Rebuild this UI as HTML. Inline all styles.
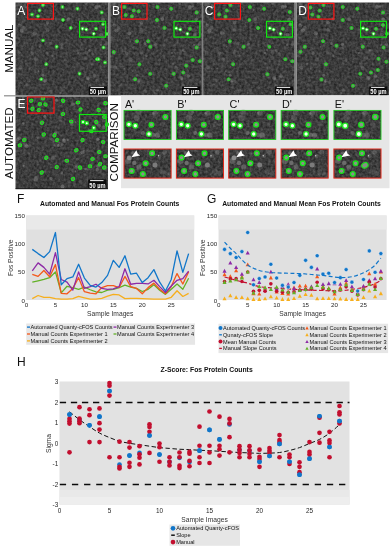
<!DOCTYPE html>
<html lang="en"><head><meta charset="utf-8"><title>Figure</title>
<style>
html,body{margin:0;padding:0;background:#fff;}
body{width:392px;height:550px;overflow:hidden;}
svg{display:block;font-family:"Liberation Sans", Arial, sans-serif;}
.tk{font-size:6.2px;fill:#262626;}
.ax{font-size:6.7px;fill:#333;}
.ti{font-size:6.8px;font-weight:bold;fill:#111;}
.lg{font-size:5.6px;fill:#111;}
.pl{font-size:12px;fill:#111;}
.rl{font-size:11.6px;fill:#111;}
.sb{font-size:4.6px;font-weight:bold;fill:#111;}
</style></head><body>
<svg width="392" height="550" viewBox="0 0 392 550">
<defs>
<filter id="nz" x="0" y="0" width="100%" height="100%" color-interpolation-filters="sRGB">
<feTurbulence type="fractalNoise" baseFrequency="0.38" numOctaves="2" seed="3" result="t"/>
<feColorMatrix in="t" type="matrix" values="0.30 0 0 0 0.085  0.30 0 0 0 0.085  0.30 0 0 0 0.085  0 0 0 0 1"/>
<feComposite operator="in" in2="SourceGraphic"/>
</filter>
<filter id="bl" x="-50%" y="-50%" width="200%" height="200%"><feGaussianBlur stdDeviation="0.6"/></filter>
</defs>
<rect width="392" height="550" fill="#fff"/>

<g>
<rect x="15.5" y="2.5" width="93" height="92.8" fill="#474747" filter="url(#nz)"/>
<g filter="url(#bl)">
<circle cx="28.7" cy="80.4" r="1.8" fill="#949494" opacity="0.19"/>
<circle cx="61.6" cy="44.3" r="1.6" fill="#949494" opacity="0.38"/>
<circle cx="25.0" cy="6.1" r="1.9" fill="#949494" opacity="0.25"/>
<circle cx="85.9" cy="3.7" r="1.4" fill="#949494" opacity="0.35"/>
<circle cx="37.3" cy="89.3" r="2.0" fill="#949494" opacity="0.11"/>
<circle cx="18.8" cy="52.7" r="2.0" fill="#949494" opacity="0.23"/>
<circle cx="36.2" cy="41.8" r="0.8" fill="#949494" opacity="0.18"/>
<circle cx="56.3" cy="48.5" r="1.1" fill="#949494" opacity="0.18"/>
<circle cx="36.4" cy="45.2" r="1.2" fill="#949494" opacity="0.11"/>
<circle cx="92.7" cy="54.0" r="1.6" fill="#949494" opacity="0.17"/>
<circle cx="106.8" cy="81.6" r="1.0" fill="#949494" opacity="0.22"/>
<circle cx="82.2" cy="68.1" r="2.0" fill="#949494" opacity="0.25"/>
<circle cx="92.0" cy="64.4" r="1.2" fill="#949494" opacity="0.31"/>
<circle cx="96.8" cy="80.3" r="1.5" fill="#949494" opacity="0.31"/>
<circle cx="19.6" cy="25.5" r="1.8" fill="#949494" opacity="0.25"/>
<circle cx="32.2" cy="53.3" r="1.7" fill="#949494" opacity="0.34"/>
<circle cx="50.6" cy="43.4" r="1.5" fill="#949494" opacity="0.37"/>
<circle cx="63.9" cy="39.2" r="1.4" fill="#949494" opacity="0.11"/>
<circle cx="20.5" cy="67.4" r="2.1" fill="#949494" opacity="0.31"/>
<circle cx="52.3" cy="19.0" r="1.5" fill="#949494" opacity="0.44"/>
<circle cx="86.6" cy="52.5" r="1.9" fill="#949494" opacity="0.18"/>
<circle cx="63.3" cy="90.0" r="1.6" fill="#949494" opacity="0.26"/>
<circle cx="41.0" cy="53.3" r="2.0" fill="#949494" opacity="0.10"/>
<circle cx="87.8" cy="78.0" r="2.0" fill="#949494" opacity="0.36"/>
<circle cx="90.1" cy="50.6" r="1.5" fill="#949494" opacity="0.25"/>
<circle cx="21.6" cy="82.5" r="1.5" fill="#949494" opacity="0.17"/>
<circle cx="62.4" cy="47.5" r="1.3" fill="#949494" opacity="0.22"/>
<circle cx="65.5" cy="60.1" r="1.6" fill="#949494" opacity="0.26"/>
<circle cx="19.0" cy="24.3" r="1.0" fill="#949494" opacity="0.30"/>
<circle cx="94.9" cy="76.0" r="1.8" fill="#949494" opacity="0.39"/>
<circle cx="39.7" cy="79.9" r="1.7" fill="#949494" opacity="0.13"/>
<circle cx="18.0" cy="4.8" r="1.8" fill="#949494" opacity="0.19"/>
<circle cx="26.5" cy="60.2" r="1.2" fill="#949494" opacity="0.12"/>
<circle cx="31.0" cy="51.4" r="1.0" fill="#949494" opacity="0.20"/>
<circle cx="81.3" cy="44.8" r="1.2" fill="#949494" opacity="0.27"/>
<circle cx="18.7" cy="38.6" r="1.3" fill="#949494" opacity="0.17"/>
<circle cx="26.4" cy="85.2" r="1.5" fill="#949494" opacity="0.17"/>
<circle cx="71.6" cy="77.7" r="0.8" fill="#949494" opacity="0.11"/>
<circle cx="29.8" cy="68.8" r="1.0" fill="#949494" opacity="0.35"/>
<circle cx="78.2" cy="53.0" r="1.1" fill="#949494" opacity="0.44"/>
<circle cx="89.1" cy="50.4" r="1.1" fill="#949494" opacity="0.33"/>
<circle cx="52.4" cy="55.8" r="1.2" fill="#949494" opacity="0.32"/>
<circle cx="21.8" cy="30.6" r="2.1" fill="#949494" opacity="0.41"/>
<circle cx="44.4" cy="81.5" r="1.2" fill="#949494" opacity="0.43"/>
<circle cx="84.2" cy="41.3" r="1.1" fill="#949494" opacity="0.10"/>
<circle cx="96.5" cy="6.9" r="1.9" fill="#949494" opacity="0.44"/>
<circle cx="68.4" cy="19.1" r="1.9" fill="#949494" opacity="0.44"/>
<circle cx="80.6" cy="49.7" r="1.3" fill="#949494" opacity="0.22"/>
<circle cx="35.2" cy="64.7" r="1.4" fill="#949494" opacity="0.17"/>
<circle cx="26.0" cy="64.0" r="1.2" fill="#949494" opacity="0.27"/>
<circle cx="46.1" cy="82.6" r="2.0" fill="#949494" opacity="0.11"/>
<circle cx="34.8" cy="33.3" r="2.1" fill="#949494" opacity="0.37"/>
<circle cx="47.4" cy="22.8" r="1.7" fill="#949494" opacity="0.39"/>
<circle cx="101.3" cy="34.7" r="1.9" fill="#949494" opacity="0.34"/>
<circle cx="60.6" cy="93.0" r="1.1" fill="#949494" opacity="0.35"/>
<circle cx="24.2" cy="18.9" r="2.0" fill="#949494" opacity="0.17"/>
<circle cx="85.6" cy="58.0" r="1.9" fill="#949494" opacity="0.23"/>
<circle cx="47.5" cy="29.9" r="1.9" fill="#949494" opacity="0.31"/>
<circle cx="103.3" cy="84.1" r="1.0" fill="#949494" opacity="0.29"/>
<circle cx="26.0" cy="7.1" r="0.9" fill="#949494" opacity="0.40"/>
<circle cx="88.2" cy="78.7" r="1.2" fill="#949494" opacity="0.32"/>
<circle cx="87.7" cy="37.8" r="1.5" fill="#949494" opacity="0.18"/>
<circle cx="23.9" cy="27.7" r="2.0" fill="#949494" opacity="0.30"/>
<circle cx="100.7" cy="45.1" r="1.2" fill="#949494" opacity="0.38"/>
<circle cx="91.8" cy="4.6" r="1.7" fill="#949494" opacity="0.13"/>
<circle cx="27.0" cy="83.9" r="0.9" fill="#949494" opacity="0.18"/>
<circle cx="106.4" cy="41.7" r="1.0" fill="#949494" opacity="0.16"/>
<circle cx="38.5" cy="71.1" r="0.9" fill="#949494" opacity="0.42"/>
<circle cx="50.9" cy="91.6" r="2.0" fill="#949494" opacity="0.20"/>
<circle cx="39.6" cy="46.8" r="0.9" fill="#949494" opacity="0.33"/>
<circle cx="20.1" cy="4.5" r="2.1" fill="#949494" opacity="0.20"/>
<circle cx="70.8" cy="44.3" r="1.2" fill="#949494" opacity="0.12"/>
<circle cx="99.6" cy="91.6" r="2.1" fill="#949494" opacity="0.14"/>
<circle cx="36.1" cy="59.6" r="2.1" fill="#949494" opacity="0.29"/>
<circle cx="79.1" cy="63.6" r="1.1" fill="#949494" opacity="0.29"/>
<circle cx="44.5" cy="25.9" r="0.9" fill="#949494" opacity="0.20"/>
<circle cx="106.0" cy="44.2" r="1.6" fill="#949494" opacity="0.33"/>
<circle cx="102.1" cy="39.0" r="1.2" fill="#949494" opacity="0.21"/>
<circle cx="45.3" cy="80.4" r="2.0" fill="#949494" opacity="0.21"/>
<circle cx="46.9" cy="52.9" r="1.6" fill="#949494" opacity="0.31"/>
<circle cx="38.8" cy="5.3" r="1.1" fill="#949494" opacity="0.13"/>
<circle cx="66.7" cy="9.9" r="0.9" fill="#949494" opacity="0.32"/>
<circle cx="43.0" cy="75.4" r="1.4" fill="#949494" opacity="0.40"/>
<circle cx="30.5" cy="49.0" r="1.8" fill="#949494" opacity="0.13"/>
<circle cx="102.9" cy="19.2" r="1.8" fill="#949494" opacity="0.44"/>
<circle cx="91.3" cy="32.5" r="0.9" fill="#949494" opacity="0.28"/>
<circle cx="100.2" cy="30.1" r="2.0" fill="#949494" opacity="0.15"/>
<circle cx="99.4" cy="6.4" r="1.2" fill="#949494" opacity="0.42"/>
<circle cx="89.7" cy="85.9" r="1.9" fill="#949494" opacity="0.36"/>
<circle cx="79.3" cy="19.7" r="1.4" fill="#949494" opacity="0.16"/>
</g>
<circle cx="43.00" cy="5.00" r="1.40" fill="#a4cfa4" stroke="#18e418" stroke-width="0.95"/>
<circle cx="39.50" cy="10.50" r="1.40" fill="#a4cfa4" stroke="#18e418" stroke-width="0.95"/>
<circle cx="32.00" cy="14.50" r="1.40" fill="#a4cfa4" stroke="#18e418" stroke-width="0.95"/>
<circle cx="38.00" cy="16.25" r="1.40" fill="#a4cfa4" stroke="#18e418" stroke-width="0.95"/>
<circle cx="62.50" cy="7.00" r="1.40" fill="#a4cfa4" stroke="#18e418" stroke-width="0.95"/>
<circle cx="77.50" cy="8.75" r="1.40" fill="#a4cfa4" stroke="#18e418" stroke-width="0.95"/>
<circle cx="63.00" cy="20.00" r="1.40" fill="#a4cfa4" stroke="#18e418" stroke-width="0.95"/>
<circle cx="70.75" cy="28.00" r="1.40" fill="#a4cfa4" stroke="#18e418" stroke-width="0.95"/>
<circle cx="82.50" cy="28.75" r="1.40" fill="#f2fff2" stroke="#20ea20" stroke-width="0.95"/>
<circle cx="86.25" cy="29.50" r="1.40" fill="#f2fff2" stroke="#20ea20" stroke-width="0.95"/>
<circle cx="96.00" cy="28.75" r="1.40" fill="#a4cfa4" stroke="#18e418" stroke-width="0.95"/>
<circle cx="93.75" cy="33.75" r="1.40" fill="#f2fff2" stroke="#20ea20" stroke-width="0.95"/>
<circle cx="43.00" cy="40.50" r="1.40" fill="#a4cfa4" stroke="#18e418" stroke-width="0.95"/>
<circle cx="56.75" cy="46.75" r="1.40" fill="#a4cfa4" stroke="#18e418" stroke-width="0.95"/>
<circle cx="46.25" cy="64.25" r="1.40" fill="#a4cfa4" stroke="#18e418" stroke-width="0.95"/>
<circle cx="79.50" cy="73.75" r="1.40" fill="#a4cfa4" stroke="#18e418" stroke-width="0.95"/>
<circle cx="41.25" cy="79.25" r="1.40" fill="#a4cfa4" stroke="#18e418" stroke-width="0.95"/>
<circle cx="97.00" cy="59.25" r="1.40" fill="#a4cfa4" stroke="#18e418" stroke-width="0.95"/>
<circle cx="101.75" cy="12.50" r="1.40" fill="#a4cfa4" stroke="#18e418" stroke-width="0.95"/>
<circle cx="103.00" cy="24.25" r="1.40" fill="#a4cfa4" stroke="#18e418" stroke-width="0.95"/>
<circle cx="107.00" cy="34.00" r="1.40" fill="#a4cfa4" stroke="#18e418" stroke-width="0.95"/>
<circle cx="103.50" cy="47.50" r="1.40" fill="#a4cfa4" stroke="#18e418" stroke-width="0.95"/>
<circle cx="98.50" cy="59.25" r="1.40" fill="#a4cfa4" stroke="#18e418" stroke-width="0.95"/>
<circle cx="105.00" cy="62.50" r="1.40" fill="#a4cfa4" stroke="#18e418" stroke-width="0.95"/>
<rect x="27.70" y="3.40" width="25.70" height="15.70" fill="none" stroke="#ff1414" stroke-width="1.2"/>
<rect x="79.60" y="21.30" width="26.05" height="15.80" fill="none" stroke="#10e810" stroke-width="1.2"/>
<text x="17.2" y="15.4" style="font-size:12px;fill:#fff">A</text>
<rect x="88.70" y="86.40" width="18.3" height="8.8" fill="#0c0c0c"/>
<rect x="90.60" y="86.90" width="13.4" height="1.0" fill="#efefef"/>
<text x="89.80" y="94.40" textLength="16.3" lengthAdjust="spacingAndGlyphs" style="font-size:6.6px;font-weight:bold;fill:#fafafa">50 µm</text>
</g>
<g>
<rect x="110.2" y="2.5" width="91.7" height="92.8" fill="#474747" filter="url(#nz)"/>
<g filter="url(#bl)">
<circle cx="123.3" cy="80.4" r="1.8" fill="#949494" opacity="0.19"/>
<circle cx="155.6" cy="44.3" r="1.6" fill="#949494" opacity="0.38"/>
<circle cx="119.6" cy="6.1" r="1.9" fill="#949494" opacity="0.25"/>
<circle cx="179.6" cy="3.7" r="1.4" fill="#949494" opacity="0.35"/>
<circle cx="131.7" cy="89.3" r="2.0" fill="#949494" opacity="0.11"/>
<circle cx="113.5" cy="52.7" r="2.0" fill="#949494" opacity="0.23"/>
<circle cx="130.6" cy="41.8" r="0.8" fill="#949494" opacity="0.18"/>
<circle cx="150.5" cy="48.5" r="1.1" fill="#949494" opacity="0.18"/>
<circle cx="130.8" cy="45.2" r="1.2" fill="#949494" opacity="0.11"/>
<circle cx="186.3" cy="54.0" r="1.6" fill="#949494" opacity="0.17"/>
<circle cx="200.2" cy="81.6" r="1.0" fill="#949494" opacity="0.22"/>
<circle cx="175.9" cy="68.1" r="2.0" fill="#949494" opacity="0.25"/>
<circle cx="185.7" cy="64.4" r="1.2" fill="#949494" opacity="0.31"/>
<circle cx="190.4" cy="80.3" r="1.5" fill="#949494" opacity="0.31"/>
<circle cx="114.3" cy="25.5" r="1.8" fill="#949494" opacity="0.25"/>
<circle cx="126.7" cy="53.3" r="1.7" fill="#949494" opacity="0.34"/>
<circle cx="144.8" cy="43.4" r="1.5" fill="#949494" opacity="0.37"/>
<circle cx="157.9" cy="39.2" r="1.4" fill="#949494" opacity="0.11"/>
<circle cx="115.1" cy="67.4" r="2.1" fill="#949494" opacity="0.31"/>
<circle cx="146.5" cy="19.0" r="1.5" fill="#949494" opacity="0.44"/>
<circle cx="180.3" cy="52.5" r="1.9" fill="#949494" opacity="0.18"/>
<circle cx="157.3" cy="90.0" r="1.6" fill="#949494" opacity="0.26"/>
<circle cx="135.4" cy="53.3" r="2.0" fill="#949494" opacity="0.10"/>
<circle cx="181.5" cy="78.0" r="2.0" fill="#949494" opacity="0.36"/>
<circle cx="183.8" cy="50.6" r="1.5" fill="#949494" opacity="0.25"/>
<circle cx="116.2" cy="82.5" r="1.5" fill="#949494" opacity="0.17"/>
<circle cx="156.5" cy="47.5" r="1.3" fill="#949494" opacity="0.22"/>
<circle cx="159.5" cy="60.1" r="1.6" fill="#949494" opacity="0.26"/>
<circle cx="113.7" cy="24.3" r="1.0" fill="#949494" opacity="0.30"/>
<circle cx="188.4" cy="76.0" r="1.8" fill="#949494" opacity="0.39"/>
<circle cx="134.1" cy="79.9" r="1.7" fill="#949494" opacity="0.13"/>
<circle cx="112.7" cy="4.8" r="1.8" fill="#949494" opacity="0.19"/>
<circle cx="121.0" cy="60.2" r="1.2" fill="#949494" opacity="0.12"/>
<circle cx="125.5" cy="51.4" r="1.0" fill="#949494" opacity="0.20"/>
<circle cx="175.0" cy="44.8" r="1.2" fill="#949494" opacity="0.27"/>
<circle cx="113.3" cy="38.6" r="1.3" fill="#949494" opacity="0.17"/>
<circle cx="121.0" cy="85.2" r="1.5" fill="#949494" opacity="0.17"/>
<circle cx="165.5" cy="77.7" r="0.8" fill="#949494" opacity="0.11"/>
<circle cx="124.3" cy="68.8" r="1.0" fill="#949494" opacity="0.35"/>
<circle cx="172.0" cy="53.0" r="1.1" fill="#949494" opacity="0.44"/>
<circle cx="182.8" cy="50.4" r="1.1" fill="#949494" opacity="0.33"/>
<circle cx="146.6" cy="55.8" r="1.2" fill="#949494" opacity="0.32"/>
<circle cx="116.5" cy="30.6" r="2.1" fill="#949494" opacity="0.41"/>
<circle cx="138.7" cy="81.5" r="1.2" fill="#949494" opacity="0.43"/>
<circle cx="177.9" cy="41.3" r="1.1" fill="#949494" opacity="0.10"/>
<circle cx="190.0" cy="6.9" r="1.9" fill="#949494" opacity="0.44"/>
<circle cx="162.4" cy="19.1" r="1.9" fill="#949494" opacity="0.44"/>
<circle cx="174.4" cy="49.7" r="1.3" fill="#949494" opacity="0.22"/>
<circle cx="129.7" cy="64.7" r="1.4" fill="#949494" opacity="0.17"/>
<circle cx="120.6" cy="64.0" r="1.2" fill="#949494" opacity="0.27"/>
<circle cx="140.4" cy="82.6" r="2.0" fill="#949494" opacity="0.11"/>
<circle cx="129.2" cy="33.3" r="2.1" fill="#949494" opacity="0.37"/>
<circle cx="141.6" cy="22.8" r="1.7" fill="#949494" opacity="0.39"/>
<circle cx="194.8" cy="34.7" r="1.9" fill="#949494" opacity="0.34"/>
<circle cx="154.7" cy="93.0" r="1.1" fill="#949494" opacity="0.35"/>
<circle cx="118.8" cy="18.9" r="2.0" fill="#949494" opacity="0.17"/>
<circle cx="179.3" cy="58.0" r="1.9" fill="#949494" opacity="0.23"/>
<circle cx="141.7" cy="29.9" r="1.9" fill="#949494" opacity="0.31"/>
<circle cx="196.8" cy="84.1" r="1.0" fill="#949494" opacity="0.29"/>
<circle cx="120.6" cy="7.1" r="0.9" fill="#949494" opacity="0.40"/>
<circle cx="181.9" cy="78.7" r="1.2" fill="#949494" opacity="0.32"/>
<circle cx="181.3" cy="37.8" r="1.5" fill="#949494" opacity="0.18"/>
<circle cx="118.5" cy="27.7" r="2.0" fill="#949494" opacity="0.30"/>
<circle cx="194.2" cy="45.1" r="1.2" fill="#949494" opacity="0.38"/>
<circle cx="185.5" cy="4.6" r="1.7" fill="#949494" opacity="0.13"/>
<circle cx="121.5" cy="83.9" r="0.9" fill="#949494" opacity="0.18"/>
<circle cx="199.8" cy="41.7" r="1.0" fill="#949494" opacity="0.16"/>
<circle cx="132.9" cy="71.1" r="0.9" fill="#949494" opacity="0.42"/>
<circle cx="145.1" cy="91.6" r="2.0" fill="#949494" opacity="0.20"/>
<circle cx="133.9" cy="46.8" r="0.9" fill="#949494" opacity="0.33"/>
<circle cx="114.8" cy="4.5" r="2.1" fill="#949494" opacity="0.20"/>
<circle cx="164.7" cy="44.3" r="1.2" fill="#949494" opacity="0.12"/>
<circle cx="193.1" cy="91.6" r="2.1" fill="#949494" opacity="0.14"/>
<circle cx="130.5" cy="59.6" r="2.1" fill="#949494" opacity="0.29"/>
<circle cx="172.9" cy="63.6" r="1.1" fill="#949494" opacity="0.29"/>
<circle cx="138.8" cy="25.9" r="0.9" fill="#949494" opacity="0.20"/>
<circle cx="199.4" cy="44.2" r="1.6" fill="#949494" opacity="0.33"/>
<circle cx="195.6" cy="39.0" r="1.2" fill="#949494" opacity="0.21"/>
<circle cx="139.6" cy="80.4" r="2.0" fill="#949494" opacity="0.21"/>
<circle cx="141.2" cy="52.9" r="1.6" fill="#949494" opacity="0.31"/>
<circle cx="133.2" cy="5.3" r="1.1" fill="#949494" opacity="0.13"/>
<circle cx="160.6" cy="9.9" r="0.9" fill="#949494" opacity="0.32"/>
<circle cx="137.3" cy="75.4" r="1.4" fill="#949494" opacity="0.40"/>
<circle cx="125.0" cy="49.0" r="1.8" fill="#949494" opacity="0.13"/>
<circle cx="196.3" cy="19.2" r="1.8" fill="#949494" opacity="0.44"/>
<circle cx="184.9" cy="32.5" r="0.9" fill="#949494" opacity="0.28"/>
<circle cx="193.7" cy="30.1" r="2.0" fill="#949494" opacity="0.15"/>
<circle cx="192.9" cy="6.4" r="1.2" fill="#949494" opacity="0.42"/>
<circle cx="183.3" cy="85.9" r="1.9" fill="#949494" opacity="0.36"/>
</g>
<circle cx="124.45" cy="7.00" r="1.50" fill="#7c807c" stroke="#18e418" stroke-width="0.95"/>
<circle cx="133.70" cy="10.50" r="1.50" fill="#7c807c" stroke="#18e418" stroke-width="0.95"/>
<circle cx="138.70" cy="11.25" r="1.50" fill="#7c807c" stroke="#18e418" stroke-width="0.95"/>
<circle cx="125.70" cy="15.00" r="1.50" fill="#7c807c" stroke="#18e418" stroke-width="0.95"/>
<circle cx="131.95" cy="16.25" r="1.50" fill="#7c807c" stroke="#18e418" stroke-width="0.95"/>
<circle cx="157.45" cy="7.00" r="1.50" fill="#7c807c" stroke="#18e418" stroke-width="0.95"/>
<circle cx="171.20" cy="8.75" r="1.50" fill="#7c807c" stroke="#18e418" stroke-width="0.95"/>
<circle cx="156.95" cy="20.00" r="1.50" fill="#7c807c" stroke="#18e418" stroke-width="0.95"/>
<circle cx="164.45" cy="28.00" r="1.50" fill="#7c807c" stroke="#18e418" stroke-width="0.95"/>
<circle cx="176.20" cy="28.25" r="1.50" fill="#f2fff2" stroke="#20ea20" stroke-width="0.95"/>
<circle cx="180.20" cy="29.50" r="1.50" fill="#f2fff2" stroke="#20ea20" stroke-width="0.95"/>
<circle cx="189.95" cy="28.75" r="1.50" fill="#7c807c" stroke="#18e418" stroke-width="0.95"/>
<circle cx="187.45" cy="33.75" r="1.50" fill="#f2fff2" stroke="#20ea20" stroke-width="0.95"/>
<circle cx="136.95" cy="41.25" r="1.50" fill="#7c807c" stroke="#18e418" stroke-width="0.95"/>
<circle cx="148.20" cy="41.25" r="1.50" fill="#7c807c" stroke="#18e418" stroke-width="0.95"/>
<circle cx="150.20" cy="46.75" r="1.50" fill="#7c807c" stroke="#18e418" stroke-width="0.95"/>
<circle cx="113.70" cy="52.00" r="1.50" fill="#7c807c" stroke="#18e418" stroke-width="0.95"/>
<circle cx="139.45" cy="64.25" r="1.50" fill="#7c807c" stroke="#18e418" stroke-width="0.95"/>
<circle cx="150.20" cy="73.75" r="1.50" fill="#7c807c" stroke="#18e418" stroke-width="0.95"/>
<circle cx="135.20" cy="79.25" r="1.50" fill="#7c807c" stroke="#18e418" stroke-width="0.95"/>
<circle cx="173.70" cy="73.75" r="1.50" fill="#7c807c" stroke="#18e418" stroke-width="0.95"/>
<circle cx="183.20" cy="72.50" r="1.50" fill="#7c807c" stroke="#18e418" stroke-width="0.95"/>
<circle cx="186.20" cy="65.75" r="1.50" fill="#7c807c" stroke="#18e418" stroke-width="0.95"/>
<circle cx="192.70" cy="60.00" r="1.50" fill="#7c807c" stroke="#18e418" stroke-width="0.95"/>
<circle cx="166.20" cy="85.75" r="1.50" fill="#7c807c" stroke="#18e418" stroke-width="0.95"/>
<circle cx="196.70" cy="12.50" r="1.50" fill="#7c807c" stroke="#18e418" stroke-width="0.95"/>
<circle cx="196.70" cy="47.50" r="1.50" fill="#7c807c" stroke="#18e418" stroke-width="0.95"/>
<circle cx="199.95" cy="61.25" r="1.50" fill="#7c807c" stroke="#18e418" stroke-width="0.95"/>
<rect x="121.60" y="3.40" width="25.40" height="15.70" fill="none" stroke="#ff1414" stroke-width="1.2"/>
<rect x="174.00" y="21.30" width="25.90" height="15.80" fill="none" stroke="#10e810" stroke-width="1.2"/>
<text x="111.9" y="15.4" style="font-size:12px;fill:#fff">B</text>
<rect x="182.10" y="86.40" width="18.3" height="8.8" fill="#0c0c0c"/>
<rect x="184.00" y="86.90" width="13.4" height="1.0" fill="#efefef"/>
<text x="183.20" y="94.40" textLength="16.3" lengthAdjust="spacingAndGlyphs" style="font-size:6.6px;font-weight:bold;fill:#fafafa">50 µm</text>
</g>
<g>
<rect x="203.1" y="2.5" width="91.6" height="92.8" fill="#474747" filter="url(#nz)"/>
<g filter="url(#bl)">
<circle cx="216.1" cy="80.4" r="1.8" fill="#949494" opacity="0.19"/>
<circle cx="248.5" cy="44.3" r="1.6" fill="#949494" opacity="0.38"/>
<circle cx="212.5" cy="6.1" r="1.9" fill="#949494" opacity="0.25"/>
<circle cx="272.4" cy="3.7" r="1.4" fill="#949494" opacity="0.35"/>
<circle cx="224.6" cy="89.3" r="2.0" fill="#949494" opacity="0.11"/>
<circle cx="206.4" cy="52.7" r="2.0" fill="#949494" opacity="0.23"/>
<circle cx="223.5" cy="41.8" r="0.8" fill="#949494" opacity="0.18"/>
<circle cx="243.3" cy="48.5" r="1.1" fill="#949494" opacity="0.18"/>
<circle cx="223.7" cy="45.2" r="1.2" fill="#949494" opacity="0.11"/>
<circle cx="279.1" cy="54.0" r="1.6" fill="#949494" opacity="0.17"/>
<circle cx="293.0" cy="81.6" r="1.0" fill="#949494" opacity="0.22"/>
<circle cx="268.7" cy="68.1" r="2.0" fill="#949494" opacity="0.25"/>
<circle cx="278.5" cy="64.4" r="1.2" fill="#949494" opacity="0.31"/>
<circle cx="283.2" cy="80.3" r="1.5" fill="#949494" opacity="0.31"/>
<circle cx="207.2" cy="25.5" r="1.8" fill="#949494" opacity="0.25"/>
<circle cx="219.6" cy="53.3" r="1.7" fill="#949494" opacity="0.34"/>
<circle cx="237.7" cy="43.4" r="1.5" fill="#949494" opacity="0.37"/>
<circle cx="250.8" cy="39.2" r="1.4" fill="#949494" opacity="0.11"/>
<circle cx="208.0" cy="67.4" r="2.1" fill="#949494" opacity="0.31"/>
<circle cx="239.4" cy="19.0" r="1.5" fill="#949494" opacity="0.44"/>
<circle cx="273.1" cy="52.5" r="1.9" fill="#949494" opacity="0.18"/>
<circle cx="250.1" cy="90.0" r="1.6" fill="#949494" opacity="0.26"/>
<circle cx="228.2" cy="53.3" r="2.0" fill="#949494" opacity="0.10"/>
<circle cx="274.3" cy="78.0" r="2.0" fill="#949494" opacity="0.36"/>
<circle cx="276.6" cy="50.6" r="1.5" fill="#949494" opacity="0.25"/>
<circle cx="209.1" cy="82.5" r="1.5" fill="#949494" opacity="0.17"/>
<circle cx="249.3" cy="47.5" r="1.3" fill="#949494" opacity="0.22"/>
<circle cx="252.3" cy="60.1" r="1.6" fill="#949494" opacity="0.26"/>
<circle cx="206.6" cy="24.3" r="1.0" fill="#949494" opacity="0.30"/>
<circle cx="281.2" cy="76.0" r="1.8" fill="#949494" opacity="0.39"/>
<circle cx="227.0" cy="79.9" r="1.7" fill="#949494" opacity="0.13"/>
<circle cx="205.6" cy="4.8" r="1.8" fill="#949494" opacity="0.19"/>
<circle cx="213.9" cy="60.2" r="1.2" fill="#949494" opacity="0.12"/>
<circle cx="218.4" cy="51.4" r="1.0" fill="#949494" opacity="0.20"/>
<circle cx="267.9" cy="44.8" r="1.2" fill="#949494" opacity="0.27"/>
<circle cx="206.2" cy="38.6" r="1.3" fill="#949494" opacity="0.17"/>
<circle cx="213.8" cy="85.2" r="1.5" fill="#949494" opacity="0.17"/>
<circle cx="258.4" cy="77.7" r="0.8" fill="#949494" opacity="0.11"/>
<circle cx="217.2" cy="68.8" r="1.0" fill="#949494" opacity="0.35"/>
<circle cx="264.9" cy="53.0" r="1.1" fill="#949494" opacity="0.44"/>
<circle cx="275.6" cy="50.4" r="1.1" fill="#949494" opacity="0.33"/>
<circle cx="239.5" cy="55.8" r="1.2" fill="#949494" opacity="0.32"/>
<circle cx="209.4" cy="30.6" r="2.1" fill="#949494" opacity="0.41"/>
<circle cx="231.6" cy="81.5" r="1.2" fill="#949494" opacity="0.43"/>
<circle cx="270.7" cy="41.3" r="1.1" fill="#949494" opacity="0.10"/>
<circle cx="282.8" cy="6.9" r="1.9" fill="#949494" opacity="0.44"/>
<circle cx="255.2" cy="19.1" r="1.9" fill="#949494" opacity="0.44"/>
<circle cx="267.2" cy="49.7" r="1.3" fill="#949494" opacity="0.22"/>
<circle cx="222.5" cy="64.7" r="1.4" fill="#949494" opacity="0.17"/>
<circle cx="213.5" cy="64.0" r="1.2" fill="#949494" opacity="0.27"/>
<circle cx="233.3" cy="82.6" r="2.0" fill="#949494" opacity="0.11"/>
<circle cx="222.1" cy="33.3" r="2.1" fill="#949494" opacity="0.37"/>
<circle cx="234.5" cy="22.8" r="1.7" fill="#949494" opacity="0.39"/>
<circle cx="287.6" cy="34.7" r="1.9" fill="#949494" opacity="0.34"/>
<circle cx="247.5" cy="93.0" r="1.1" fill="#949494" opacity="0.35"/>
<circle cx="211.7" cy="18.9" r="2.0" fill="#949494" opacity="0.17"/>
<circle cx="272.1" cy="58.0" r="1.9" fill="#949494" opacity="0.23"/>
<circle cx="234.6" cy="29.9" r="1.9" fill="#949494" opacity="0.31"/>
<circle cx="289.6" cy="84.1" r="1.0" fill="#949494" opacity="0.29"/>
<circle cx="213.4" cy="7.1" r="0.9" fill="#949494" opacity="0.40"/>
<circle cx="274.7" cy="78.7" r="1.2" fill="#949494" opacity="0.32"/>
<circle cx="274.2" cy="37.8" r="1.5" fill="#949494" opacity="0.18"/>
<circle cx="211.4" cy="27.7" r="2.0" fill="#949494" opacity="0.30"/>
<circle cx="287.0" cy="45.1" r="1.2" fill="#949494" opacity="0.38"/>
<circle cx="278.3" cy="4.6" r="1.7" fill="#949494" opacity="0.13"/>
<circle cx="214.4" cy="83.9" r="0.9" fill="#949494" opacity="0.18"/>
<circle cx="292.6" cy="41.7" r="1.0" fill="#949494" opacity="0.16"/>
<circle cx="225.7" cy="71.1" r="0.9" fill="#949494" opacity="0.42"/>
<circle cx="238.0" cy="91.6" r="2.0" fill="#949494" opacity="0.20"/>
<circle cx="226.8" cy="46.8" r="0.9" fill="#949494" opacity="0.33"/>
<circle cx="207.6" cy="4.5" r="2.1" fill="#949494" opacity="0.20"/>
<circle cx="257.6" cy="44.3" r="1.2" fill="#949494" opacity="0.12"/>
<circle cx="285.9" cy="91.6" r="2.1" fill="#949494" opacity="0.14"/>
<circle cx="223.4" cy="59.6" r="2.1" fill="#949494" opacity="0.29"/>
<circle cx="265.8" cy="63.6" r="1.1" fill="#949494" opacity="0.29"/>
<circle cx="231.6" cy="25.9" r="0.9" fill="#949494" opacity="0.20"/>
<circle cx="292.2" cy="44.2" r="1.6" fill="#949494" opacity="0.33"/>
<circle cx="288.4" cy="39.0" r="1.2" fill="#949494" opacity="0.21"/>
<circle cx="232.5" cy="80.4" r="2.0" fill="#949494" opacity="0.21"/>
<circle cx="234.1" cy="52.9" r="1.6" fill="#949494" opacity="0.31"/>
<circle cx="226.1" cy="5.3" r="1.1" fill="#949494" opacity="0.13"/>
<circle cx="253.5" cy="9.9" r="0.9" fill="#949494" opacity="0.32"/>
<circle cx="230.2" cy="75.4" r="1.4" fill="#949494" opacity="0.40"/>
<circle cx="217.9" cy="49.0" r="1.8" fill="#949494" opacity="0.13"/>
<circle cx="289.2" cy="19.2" r="1.8" fill="#949494" opacity="0.44"/>
<circle cx="277.7" cy="32.5" r="0.9" fill="#949494" opacity="0.28"/>
<circle cx="286.5" cy="30.1" r="2.0" fill="#949494" opacity="0.15"/>
<circle cx="285.7" cy="6.4" r="1.2" fill="#949494" opacity="0.42"/>
<circle cx="276.1" cy="85.9" r="1.9" fill="#949494" opacity="0.36"/>
</g>
<circle cx="230.35" cy="5.00" r="1.50" fill="#7c807c" stroke="#18e418" stroke-width="0.95"/>
<circle cx="226.85" cy="10.50" r="1.50" fill="#7c807c" stroke="#18e418" stroke-width="0.95"/>
<circle cx="219.10" cy="14.50" r="1.50" fill="#7c807c" stroke="#18e418" stroke-width="0.95"/>
<circle cx="225.60" cy="16.75" r="1.50" fill="#7c807c" stroke="#18e418" stroke-width="0.95"/>
<circle cx="249.85" cy="7.00" r="1.50" fill="#7c807c" stroke="#18e418" stroke-width="0.95"/>
<circle cx="264.10" cy="8.75" r="1.50" fill="#7c807c" stroke="#18e418" stroke-width="0.95"/>
<circle cx="249.35" cy="20.00" r="1.50" fill="#7c807c" stroke="#18e418" stroke-width="0.95"/>
<circle cx="258.10" cy="28.00" r="1.50" fill="#7c807c" stroke="#18e418" stroke-width="0.95"/>
<circle cx="269.85" cy="28.25" r="1.50" fill="#f2fff2" stroke="#20ea20" stroke-width="0.95"/>
<circle cx="273.60" cy="29.50" r="1.50" fill="#f2fff2" stroke="#20ea20" stroke-width="0.95"/>
<circle cx="282.85" cy="28.75" r="1.50" fill="#7c807c" stroke="#18e418" stroke-width="0.95"/>
<circle cx="280.60" cy="33.75" r="1.50" fill="#f2fff2" stroke="#20ea20" stroke-width="0.95"/>
<circle cx="289.85" cy="12.00" r="1.50" fill="#7c807c" stroke="#18e418" stroke-width="0.95"/>
<circle cx="290.60" cy="24.25" r="1.50" fill="#7c807c" stroke="#18e418" stroke-width="0.95"/>
<circle cx="229.85" cy="41.25" r="1.50" fill="#7c807c" stroke="#18e418" stroke-width="0.95"/>
<circle cx="243.60" cy="46.75" r="1.50" fill="#7c807c" stroke="#18e418" stroke-width="0.95"/>
<circle cx="269.35" cy="46.75" r="1.50" fill="#7c807c" stroke="#18e418" stroke-width="0.95"/>
<circle cx="233.10" cy="64.25" r="1.50" fill="#7c807c" stroke="#18e418" stroke-width="0.95"/>
<circle cx="228.60" cy="79.25" r="1.50" fill="#7c807c" stroke="#18e418" stroke-width="0.95"/>
<circle cx="267.35" cy="74.25" r="1.50" fill="#7c807c" stroke="#18e418" stroke-width="0.95"/>
<circle cx="285.35" cy="59.25" r="1.50" fill="#7c807c" stroke="#18e418" stroke-width="0.95"/>
<circle cx="292.35" cy="61.25" r="1.50" fill="#7c807c" stroke="#18e418" stroke-width="0.95"/>
<rect x="214.60" y="3.40" width="25.80" height="15.70" fill="none" stroke="#ff1414" stroke-width="1.2"/>
<rect x="266.60" y="21.30" width="25.80" height="15.80" fill="none" stroke="#10e810" stroke-width="1.2"/>
<text x="204.79999999999998" y="15.4" style="font-size:12px;fill:#fff">C</text>
<rect x="274.90" y="86.40" width="18.3" height="8.8" fill="#0c0c0c"/>
<rect x="276.80" y="86.90" width="13.4" height="1.0" fill="#efefef"/>
<text x="276.00" y="94.40" textLength="16.3" lengthAdjust="spacingAndGlyphs" style="font-size:6.6px;font-weight:bold;fill:#fafafa">50 µm</text>
</g>
<g>
<rect x="296.5" y="2.5" width="92.5" height="92.8" fill="#474747" filter="url(#nz)"/>
<g filter="url(#bl)">
<circle cx="309.7" cy="80.4" r="1.8" fill="#949494" opacity="0.19"/>
<circle cx="342.3" cy="44.3" r="1.6" fill="#949494" opacity="0.38"/>
<circle cx="306.0" cy="6.1" r="1.9" fill="#949494" opacity="0.25"/>
<circle cx="366.5" cy="3.7" r="1.4" fill="#949494" opacity="0.35"/>
<circle cx="318.2" cy="89.3" r="2.0" fill="#949494" opacity="0.11"/>
<circle cx="299.8" cy="52.7" r="2.0" fill="#949494" opacity="0.23"/>
<circle cx="317.1" cy="41.8" r="0.8" fill="#949494" opacity="0.18"/>
<circle cx="337.1" cy="48.5" r="1.1" fill="#949494" opacity="0.18"/>
<circle cx="317.3" cy="45.2" r="1.2" fill="#949494" opacity="0.11"/>
<circle cx="373.3" cy="54.0" r="1.6" fill="#949494" opacity="0.17"/>
<circle cx="387.3" cy="81.6" r="1.0" fill="#949494" opacity="0.22"/>
<circle cx="362.8" cy="68.1" r="2.0" fill="#949494" opacity="0.25"/>
<circle cx="372.6" cy="64.4" r="1.2" fill="#949494" opacity="0.31"/>
<circle cx="377.4" cy="80.3" r="1.5" fill="#949494" opacity="0.31"/>
<circle cx="300.6" cy="25.5" r="1.8" fill="#949494" opacity="0.25"/>
<circle cx="313.2" cy="53.3" r="1.7" fill="#949494" opacity="0.34"/>
<circle cx="331.4" cy="43.4" r="1.5" fill="#949494" opacity="0.37"/>
<circle cx="344.6" cy="39.2" r="1.4" fill="#949494" opacity="0.11"/>
<circle cx="301.4" cy="67.4" r="2.1" fill="#949494" opacity="0.31"/>
<circle cx="333.1" cy="19.0" r="1.5" fill="#949494" opacity="0.44"/>
<circle cx="367.2" cy="52.5" r="1.9" fill="#949494" opacity="0.18"/>
<circle cx="344.0" cy="90.0" r="1.6" fill="#949494" opacity="0.26"/>
<circle cx="321.9" cy="53.3" r="2.0" fill="#949494" opacity="0.10"/>
<circle cx="368.4" cy="78.0" r="2.0" fill="#949494" opacity="0.36"/>
<circle cx="370.7" cy="50.6" r="1.5" fill="#949494" opacity="0.25"/>
<circle cx="302.6" cy="82.5" r="1.5" fill="#949494" opacity="0.17"/>
<circle cx="343.2" cy="47.5" r="1.3" fill="#949494" opacity="0.22"/>
<circle cx="346.2" cy="60.1" r="1.6" fill="#949494" opacity="0.26"/>
<circle cx="300.0" cy="24.3" r="1.0" fill="#949494" opacity="0.30"/>
<circle cx="375.4" cy="76.0" r="1.8" fill="#949494" opacity="0.39"/>
<circle cx="320.6" cy="79.9" r="1.7" fill="#949494" opacity="0.13"/>
<circle cx="299.0" cy="4.8" r="1.8" fill="#949494" opacity="0.19"/>
<circle cx="307.4" cy="60.2" r="1.2" fill="#949494" opacity="0.12"/>
<circle cx="311.9" cy="51.4" r="1.0" fill="#949494" opacity="0.20"/>
<circle cx="361.9" cy="44.8" r="1.2" fill="#949494" opacity="0.27"/>
<circle cx="299.6" cy="38.6" r="1.3" fill="#949494" opacity="0.17"/>
<circle cx="307.3" cy="85.2" r="1.5" fill="#949494" opacity="0.17"/>
<circle cx="352.3" cy="77.7" r="0.8" fill="#949494" opacity="0.11"/>
<circle cx="310.8" cy="68.8" r="1.0" fill="#949494" opacity="0.35"/>
<circle cx="358.9" cy="53.0" r="1.1" fill="#949494" opacity="0.44"/>
<circle cx="369.7" cy="50.4" r="1.1" fill="#949494" opacity="0.33"/>
<circle cx="333.2" cy="55.8" r="1.2" fill="#949494" opacity="0.32"/>
<circle cx="302.8" cy="30.6" r="2.1" fill="#949494" opacity="0.41"/>
<circle cx="325.2" cy="81.5" r="1.2" fill="#949494" opacity="0.43"/>
<circle cx="364.8" cy="41.3" r="1.1" fill="#949494" opacity="0.10"/>
<circle cx="377.0" cy="6.9" r="1.9" fill="#949494" opacity="0.44"/>
<circle cx="349.1" cy="19.1" r="1.9" fill="#949494" opacity="0.44"/>
<circle cx="361.2" cy="49.7" r="1.3" fill="#949494" opacity="0.22"/>
<circle cx="316.1" cy="64.7" r="1.4" fill="#949494" opacity="0.17"/>
<circle cx="307.0" cy="64.0" r="1.2" fill="#949494" opacity="0.27"/>
<circle cx="326.9" cy="82.6" r="2.0" fill="#949494" opacity="0.11"/>
<circle cx="315.7" cy="33.3" r="2.1" fill="#949494" opacity="0.37"/>
<circle cx="328.2" cy="22.8" r="1.7" fill="#949494" opacity="0.39"/>
<circle cx="381.9" cy="34.7" r="1.9" fill="#949494" opacity="0.34"/>
<circle cx="341.3" cy="93.0" r="1.1" fill="#949494" opacity="0.35"/>
<circle cx="305.2" cy="18.9" r="2.0" fill="#949494" opacity="0.17"/>
<circle cx="366.2" cy="58.0" r="1.9" fill="#949494" opacity="0.23"/>
<circle cx="328.3" cy="29.9" r="1.9" fill="#949494" opacity="0.31"/>
<circle cx="383.9" cy="84.1" r="1.0" fill="#949494" opacity="0.29"/>
<circle cx="306.9" cy="7.1" r="0.9" fill="#949494" opacity="0.40"/>
<circle cx="368.8" cy="78.7" r="1.2" fill="#949494" opacity="0.32"/>
<circle cx="368.3" cy="37.8" r="1.5" fill="#949494" opacity="0.18"/>
<circle cx="304.9" cy="27.7" r="2.0" fill="#949494" opacity="0.30"/>
<circle cx="381.2" cy="45.1" r="1.2" fill="#949494" opacity="0.38"/>
<circle cx="372.4" cy="4.6" r="1.7" fill="#949494" opacity="0.13"/>
<circle cx="307.9" cy="83.9" r="0.9" fill="#949494" opacity="0.18"/>
<circle cx="386.9" cy="41.7" r="1.0" fill="#949494" opacity="0.16"/>
<circle cx="319.3" cy="71.1" r="0.9" fill="#949494" opacity="0.42"/>
<circle cx="331.7" cy="91.6" r="2.0" fill="#949494" opacity="0.20"/>
<circle cx="320.4" cy="46.8" r="0.9" fill="#949494" opacity="0.33"/>
<circle cx="301.1" cy="4.5" r="2.1" fill="#949494" opacity="0.20"/>
<circle cx="351.5" cy="44.3" r="1.2" fill="#949494" opacity="0.12"/>
<circle cx="380.2" cy="91.6" r="2.1" fill="#949494" opacity="0.14"/>
<circle cx="317.0" cy="59.6" r="2.1" fill="#949494" opacity="0.29"/>
<circle cx="359.8" cy="63.6" r="1.1" fill="#949494" opacity="0.29"/>
<circle cx="325.3" cy="25.9" r="0.9" fill="#949494" opacity="0.20"/>
<circle cx="386.5" cy="44.2" r="1.6" fill="#949494" opacity="0.33"/>
<circle cx="382.6" cy="39.0" r="1.2" fill="#949494" opacity="0.21"/>
<circle cx="326.2" cy="80.4" r="2.0" fill="#949494" opacity="0.21"/>
<circle cx="327.8" cy="52.9" r="1.6" fill="#949494" opacity="0.31"/>
<circle cx="319.7" cy="5.3" r="1.1" fill="#949494" opacity="0.13"/>
<circle cx="347.4" cy="9.9" r="0.9" fill="#949494" opacity="0.32"/>
<circle cx="323.8" cy="75.4" r="1.4" fill="#949494" opacity="0.40"/>
<circle cx="311.5" cy="49.0" r="1.8" fill="#949494" opacity="0.13"/>
<circle cx="383.4" cy="19.2" r="1.8" fill="#949494" opacity="0.44"/>
<circle cx="371.9" cy="32.5" r="0.9" fill="#949494" opacity="0.28"/>
<circle cx="380.7" cy="30.1" r="2.0" fill="#949494" opacity="0.15"/>
<circle cx="379.9" cy="6.4" r="1.2" fill="#949494" opacity="0.42"/>
<circle cx="370.2" cy="85.9" r="1.9" fill="#949494" opacity="0.36"/>
<circle cx="359.9" cy="19.7" r="1.4" fill="#949494" opacity="0.16"/>
</g>
<circle cx="323.50" cy="5.00" r="1.50" fill="#7c807c" stroke="#18e418" stroke-width="0.95"/>
<circle cx="319.75" cy="10.50" r="1.50" fill="#7c807c" stroke="#18e418" stroke-width="0.95"/>
<circle cx="310.50" cy="7.50" r="1.50" fill="#7c807c" stroke="#18e418" stroke-width="0.95"/>
<circle cx="312.25" cy="14.50" r="1.50" fill="#7c807c" stroke="#18e418" stroke-width="0.95"/>
<circle cx="318.50" cy="16.75" r="1.50" fill="#7c807c" stroke="#18e418" stroke-width="0.95"/>
<circle cx="342.75" cy="7.00" r="1.50" fill="#7c807c" stroke="#18e418" stroke-width="0.95"/>
<circle cx="357.25" cy="8.75" r="1.50" fill="#7c807c" stroke="#18e418" stroke-width="0.95"/>
<circle cx="342.75" cy="20.00" r="1.50" fill="#7c807c" stroke="#18e418" stroke-width="0.95"/>
<circle cx="351.50" cy="28.00" r="1.50" fill="#7c807c" stroke="#18e418" stroke-width="0.95"/>
<circle cx="363.00" cy="28.25" r="1.50" fill="#f2fff2" stroke="#20ea20" stroke-width="0.95"/>
<circle cx="366.75" cy="29.50" r="1.50" fill="#f2fff2" stroke="#20ea20" stroke-width="0.95"/>
<circle cx="376.00" cy="28.75" r="1.50" fill="#7c807c" stroke="#18e418" stroke-width="0.95"/>
<circle cx="373.50" cy="33.75" r="1.50" fill="#f2fff2" stroke="#20ea20" stroke-width="0.95"/>
<circle cx="383.00" cy="12.50" r="1.50" fill="#7c807c" stroke="#18e418" stroke-width="0.95"/>
<circle cx="383.00" cy="25.00" r="1.50" fill="#7c807c" stroke="#18e418" stroke-width="0.95"/>
<circle cx="387.00" cy="33.75" r="1.50" fill="#7c807c" stroke="#18e418" stroke-width="0.95"/>
<circle cx="323.00" cy="41.25" r="1.50" fill="#7c807c" stroke="#18e418" stroke-width="0.95"/>
<circle cx="336.50" cy="45.75" r="1.50" fill="#7c807c" stroke="#18e418" stroke-width="0.95"/>
<circle cx="304.75" cy="46.75" r="1.50" fill="#7c807c" stroke="#18e418" stroke-width="0.95"/>
<circle cx="300.50" cy="51.75" r="1.50" fill="#7c807c" stroke="#18e418" stroke-width="0.95"/>
<circle cx="362.75" cy="46.75" r="1.50" fill="#7c807c" stroke="#18e418" stroke-width="0.95"/>
<circle cx="383.50" cy="47.50" r="1.50" fill="#7c807c" stroke="#18e418" stroke-width="0.95"/>
<circle cx="378.50" cy="58.75" r="1.50" fill="#7c807c" stroke="#18e418" stroke-width="0.95"/>
<circle cx="386.50" cy="61.75" r="1.50" fill="#7c807c" stroke="#18e418" stroke-width="0.95"/>
<circle cx="326.00" cy="64.25" r="1.50" fill="#7c807c" stroke="#18e418" stroke-width="0.95"/>
<circle cx="377.75" cy="70.00" r="1.50" fill="#7c807c" stroke="#18e418" stroke-width="0.95"/>
<circle cx="371.00" cy="72.50" r="1.50" fill="#7c807c" stroke="#18e418" stroke-width="0.95"/>
<circle cx="360.25" cy="73.75" r="1.50" fill="#7c807c" stroke="#18e418" stroke-width="0.95"/>
<circle cx="321.50" cy="79.50" r="1.50" fill="#7c807c" stroke="#18e418" stroke-width="0.95"/>
<circle cx="353.00" cy="85.75" r="1.50" fill="#7c807c" stroke="#18e418" stroke-width="0.95"/>
<rect x="308.30" y="3.40" width="25.60" height="15.70" fill="none" stroke="#ff1414" stroke-width="1.2"/>
<rect x="360.60" y="21.30" width="25.80" height="15.80" fill="none" stroke="#10e810" stroke-width="1.2"/>
<text x="298.2" y="15.4" style="font-size:12px;fill:#fff">D</text>
<rect x="369.20" y="86.40" width="18.3" height="8.8" fill="#0c0c0c"/>
<rect x="371.10" y="86.90" width="13.4" height="1.0" fill="#efefef"/>
<text x="370.30" y="94.40" textLength="16.3" lengthAdjust="spacingAndGlyphs" style="font-size:6.6px;font-weight:bold;fill:#fafafa">50 µm</text>
</g>
<rect x="108.5" y="2.5" width="1.7" height="92.8" fill="#808080"/>
<rect x="201.9" y="2.5" width="1.2" height="92.8" fill="#808080"/>
<rect x="294.7" y="2.5" width="1.8" height="92.8" fill="#808080"/>
<rect x="15.5" y="96.5" width="92.5" height="92.5" fill="#474747" filter="url(#nz)"/>
<g filter="url(#bl)">
<circle cx="103.0" cy="183.3" r="0.9" fill="#949494" opacity="0.13"/>
<circle cx="92.1" cy="164.1" r="1.7" fill="#949494" opacity="0.21"/>
<circle cx="71.3" cy="152.4" r="1.6" fill="#949494" opacity="0.16"/>
<circle cx="55.5" cy="133.1" r="1.7" fill="#949494" opacity="0.45"/>
<circle cx="102.4" cy="146.7" r="1.4" fill="#949494" opacity="0.19"/>
<circle cx="19.8" cy="100.0" r="1.4" fill="#949494" opacity="0.21"/>
<circle cx="50.9" cy="178.2" r="1.5" fill="#949494" opacity="0.30"/>
<circle cx="37.9" cy="99.7" r="1.2" fill="#949494" opacity="0.15"/>
<circle cx="62.7" cy="187.9" r="1.7" fill="#949494" opacity="0.16"/>
<circle cx="97.4" cy="169.6" r="1.8" fill="#949494" opacity="0.42"/>
<circle cx="85.5" cy="169.0" r="1.3" fill="#949494" opacity="0.44"/>
<circle cx="103.6" cy="112.1" r="1.8" fill="#949494" opacity="0.35"/>
<circle cx="58.3" cy="145.5" r="1.4" fill="#949494" opacity="0.42"/>
<circle cx="61.8" cy="172.8" r="1.3" fill="#949494" opacity="0.41"/>
<circle cx="97.9" cy="139.2" r="1.5" fill="#949494" opacity="0.42"/>
<circle cx="82.0" cy="141.5" r="1.1" fill="#949494" opacity="0.21"/>
<circle cx="79.8" cy="112.5" r="2.0" fill="#949494" opacity="0.19"/>
<circle cx="99.0" cy="125.5" r="2.0" fill="#949494" opacity="0.35"/>
<circle cx="62.1" cy="144.4" r="1.6" fill="#949494" opacity="0.31"/>
<circle cx="44.7" cy="116.3" r="1.5" fill="#949494" opacity="0.43"/>
<circle cx="72.9" cy="104.3" r="1.9" fill="#949494" opacity="0.35"/>
<circle cx="98.6" cy="114.8" r="1.8" fill="#949494" opacity="0.12"/>
<circle cx="75.6" cy="122.2" r="1.1" fill="#949494" opacity="0.41"/>
<circle cx="26.1" cy="144.8" r="1.9" fill="#949494" opacity="0.19"/>
<circle cx="35.5" cy="177.2" r="1.3" fill="#949494" opacity="0.35"/>
<circle cx="19.4" cy="130.3" r="1.0" fill="#949494" opacity="0.34"/>
<circle cx="24.0" cy="183.9" r="0.8" fill="#949494" opacity="0.36"/>
<circle cx="18.4" cy="120.6" r="1.9" fill="#949494" opacity="0.15"/>
<circle cx="33.1" cy="160.1" r="1.3" fill="#949494" opacity="0.12"/>
<circle cx="106.1" cy="111.2" r="0.8" fill="#949494" opacity="0.22"/>
<circle cx="72.2" cy="164.7" r="0.9" fill="#949494" opacity="0.22"/>
<circle cx="19.3" cy="138.1" r="1.8" fill="#949494" opacity="0.36"/>
<circle cx="98.1" cy="165.9" r="1.9" fill="#949494" opacity="0.35"/>
<circle cx="59.3" cy="117.9" r="1.7" fill="#949494" opacity="0.21"/>
<circle cx="25.7" cy="138.0" r="1.9" fill="#949494" opacity="0.14"/>
<circle cx="69.4" cy="133.1" r="1.5" fill="#949494" opacity="0.15"/>
<circle cx="103.4" cy="120.9" r="1.6" fill="#949494" opacity="0.25"/>
<circle cx="18.1" cy="148.0" r="1.0" fill="#949494" opacity="0.12"/>
<circle cx="19.5" cy="112.1" r="0.9" fill="#949494" opacity="0.32"/>
<circle cx="62.5" cy="186.5" r="2.0" fill="#949494" opacity="0.45"/>
<circle cx="37.5" cy="137.7" r="1.1" fill="#949494" opacity="0.31"/>
<circle cx="73.0" cy="169.9" r="1.7" fill="#949494" opacity="0.19"/>
<circle cx="54.8" cy="145.1" r="0.8" fill="#949494" opacity="0.11"/>
<circle cx="53.5" cy="107.6" r="1.7" fill="#949494" opacity="0.18"/>
<circle cx="25.5" cy="113.9" r="1.1" fill="#949494" opacity="0.18"/>
<circle cx="63.6" cy="139.5" r="1.2" fill="#949494" opacity="0.32"/>
<circle cx="35.7" cy="179.5" r="2.1" fill="#949494" opacity="0.36"/>
<circle cx="55.8" cy="143.8" r="1.6" fill="#949494" opacity="0.12"/>
<circle cx="54.3" cy="145.0" r="1.0" fill="#949494" opacity="0.13"/>
<circle cx="89.1" cy="130.6" r="1.5" fill="#949494" opacity="0.42"/>
<circle cx="71.8" cy="123.7" r="2.1" fill="#949494" opacity="0.23"/>
<circle cx="18.2" cy="159.5" r="0.9" fill="#949494" opacity="0.21"/>
<circle cx="92.6" cy="158.4" r="0.8" fill="#949494" opacity="0.26"/>
<circle cx="53.7" cy="141.5" r="1.1" fill="#949494" opacity="0.31"/>
<circle cx="23.2" cy="123.2" r="1.3" fill="#949494" opacity="0.43"/>
<circle cx="23.4" cy="165.8" r="1.1" fill="#949494" opacity="0.30"/>
<circle cx="52.0" cy="139.4" r="1.8" fill="#949494" opacity="0.24"/>
<circle cx="27.5" cy="108.5" r="0.9" fill="#949494" opacity="0.40"/>
<circle cx="74.5" cy="184.4" r="1.7" fill="#949494" opacity="0.11"/>
<circle cx="76.2" cy="167.8" r="1.7" fill="#949494" opacity="0.27"/>
<circle cx="48.9" cy="138.9" r="1.8" fill="#949494" opacity="0.19"/>
<circle cx="64.1" cy="140.7" r="2.0" fill="#949494" opacity="0.38"/>
<circle cx="100.9" cy="173.2" r="1.2" fill="#949494" opacity="0.18"/>
<circle cx="60.7" cy="121.0" r="1.4" fill="#949494" opacity="0.34"/>
<circle cx="99.6" cy="150.5" r="1.9" fill="#949494" opacity="0.13"/>
<circle cx="48.7" cy="187.8" r="1.0" fill="#949494" opacity="0.25"/>
<circle cx="22.5" cy="105.3" r="2.0" fill="#949494" opacity="0.45"/>
<circle cx="75.2" cy="109.1" r="1.2" fill="#949494" opacity="0.18"/>
<circle cx="77.2" cy="159.1" r="1.4" fill="#949494" opacity="0.28"/>
<circle cx="26.6" cy="146.5" r="2.0" fill="#949494" opacity="0.36"/>
<circle cx="25.2" cy="144.2" r="1.7" fill="#949494" opacity="0.19"/>
<circle cx="97.5" cy="139.2" r="1.7" fill="#949494" opacity="0.24"/>
<circle cx="106.6" cy="168.3" r="1.5" fill="#949494" opacity="0.15"/>
<circle cx="56.4" cy="100.2" r="1.6" fill="#949494" opacity="0.41"/>
<circle cx="32.8" cy="143.7" r="1.4" fill="#949494" opacity="0.24"/>
<circle cx="80.8" cy="182.3" r="1.7" fill="#949494" opacity="0.27"/>
<circle cx="103.6" cy="127.4" r="1.8" fill="#949494" opacity="0.33"/>
<circle cx="85.4" cy="174.6" r="1.1" fill="#949494" opacity="0.32"/>
<circle cx="52.9" cy="157.9" r="2.1" fill="#949494" opacity="0.32"/>
<circle cx="17.6" cy="139.5" r="1.7" fill="#949494" opacity="0.41"/>
<circle cx="75.3" cy="171.4" r="0.8" fill="#949494" opacity="0.43"/>
<circle cx="82.5" cy="152.4" r="2.0" fill="#949494" opacity="0.41"/>
<circle cx="25.6" cy="171.3" r="1.8" fill="#949494" opacity="0.17"/>
<circle cx="83.9" cy="150.6" r="1.0" fill="#949494" opacity="0.38"/>
<circle cx="29.0" cy="152.9" r="1.4" fill="#949494" opacity="0.19"/>
<circle cx="67.7" cy="139.8" r="1.1" fill="#949494" opacity="0.44"/>
<circle cx="23.1" cy="97.8" r="1.4" fill="#949494" opacity="0.39"/>
<circle cx="76.1" cy="165.8" r="1.4" fill="#949494" opacity="0.34"/>
<circle cx="46.8" cy="121.7" r="1.5" fill="#949494" opacity="0.11"/>
<circle cx="23.7" cy="165.7" r="1.0" fill="#949494" opacity="0.36"/>
</g>
<ellipse cx="43.00" cy="98.25" rx="1.75" ry="1.45" fill="#706870" stroke="#1aea1a" stroke-width="1.15" transform="rotate(-19 43.00 98.25)"/>
<ellipse cx="31.25" cy="100.75" rx="1.75" ry="1.45" fill="#706870" stroke="#1aea1a" stroke-width="1.15" transform="rotate(-41 31.25 100.75)"/>
<ellipse cx="40.00" cy="104.00" rx="1.75" ry="1.45" fill="#706870" stroke="#1aea1a" stroke-width="1.15" transform="rotate(-10 40.00 104.00)"/>
<ellipse cx="45.50" cy="104.50" rx="1.75" ry="1.45" fill="#706870" stroke="#1aea1a" stroke-width="1.15" transform="rotate(23 45.50 104.50)"/>
<ellipse cx="32.50" cy="108.75" rx="1.75" ry="1.45" fill="#706870" stroke="#1aea1a" stroke-width="1.15" transform="rotate(-54 32.50 108.75)"/>
<ellipse cx="38.75" cy="110.00" rx="1.75" ry="1.45" fill="#706870" stroke="#1aea1a" stroke-width="1.15" transform="rotate(-51 38.75 110.00)"/>
<ellipse cx="63.00" cy="100.75" rx="1.75" ry="1.45" fill="#706870" stroke="#1aea1a" stroke-width="1.15" transform="rotate(45 63.00 100.75)"/>
<ellipse cx="78.00" cy="102.50" rx="1.75" ry="1.45" fill="#706870" stroke="#1aea1a" stroke-width="1.15" transform="rotate(8 78.00 102.50)"/>
<ellipse cx="80.50" cy="109.50" rx="1.75" ry="1.45" fill="#706870" stroke="#1aea1a" stroke-width="1.15" transform="rotate(-48 80.50 109.50)"/>
<ellipse cx="63.00" cy="114.00" rx="1.75" ry="1.45" fill="#706870" stroke="#1aea1a" stroke-width="1.15" transform="rotate(-14 63.00 114.00)"/>
<ellipse cx="71.25" cy="121.50" rx="1.75" ry="1.45" fill="#706870" stroke="#1aea1a" stroke-width="1.15" transform="rotate(14 71.25 121.50)"/>
<ellipse cx="42.00" cy="122.75" rx="1.75" ry="1.45" fill="#706870" stroke="#1aea1a" stroke-width="1.15" transform="rotate(-53 42.00 122.75)"/>
<circle cx="83.00" cy="122.00" r="1.6" fill="#f2fff2" stroke="#1aea1a" stroke-width="1.2"/>
<circle cx="86.75" cy="123.25" r="1.6" fill="#f2fff2" stroke="#1aea1a" stroke-width="1.2"/>
<ellipse cx="96.25" cy="122.00" rx="1.75" ry="1.45" fill="#706870" stroke="#1aea1a" stroke-width="1.15" transform="rotate(56 96.25 122.00)"/>
<circle cx="93.75" cy="127.75" r="1.6" fill="#f2fff2" stroke="#1aea1a" stroke-width="1.2"/>
<ellipse cx="91.25" cy="131.25" rx="1.75" ry="1.45" fill="#706870" stroke="#1aea1a" stroke-width="1.15" transform="rotate(4 91.25 131.25)"/>
<ellipse cx="43.75" cy="134.50" rx="1.75" ry="1.45" fill="#706870" stroke="#1aea1a" stroke-width="1.15" transform="rotate(-33 43.75 134.50)"/>
<ellipse cx="54.50" cy="135.25" rx="1.75" ry="1.45" fill="#706870" stroke="#1aea1a" stroke-width="1.15" transform="rotate(-56 54.50 135.25)"/>
<ellipse cx="57.00" cy="140.00" rx="1.75" ry="1.45" fill="#706870" stroke="#1aea1a" stroke-width="1.15" transform="rotate(-49 57.00 140.00)"/>
<ellipse cx="24.25" cy="140.00" rx="1.75" ry="1.45" fill="#706870" stroke="#1aea1a" stroke-width="1.15" transform="rotate(-5 24.25 140.00)"/>
<ellipse cx="20.00" cy="145.25" rx="1.75" ry="1.45" fill="#706870" stroke="#1aea1a" stroke-width="1.15" transform="rotate(-7 20.00 145.25)"/>
<ellipse cx="82.50" cy="140.00" rx="1.75" ry="1.45" fill="#706870" stroke="#1aea1a" stroke-width="1.15" transform="rotate(-52 82.50 140.00)"/>
<ellipse cx="76.25" cy="150.25" rx="1.75" ry="1.45" fill="#706870" stroke="#1aea1a" stroke-width="1.15" transform="rotate(-30 76.25 150.25)"/>
<ellipse cx="46.25" cy="157.75" rx="1.75" ry="1.45" fill="#706870" stroke="#1aea1a" stroke-width="1.15" transform="rotate(-49 46.25 157.75)"/>
<ellipse cx="66.75" cy="160.75" rx="1.75" ry="1.45" fill="#706870" stroke="#1aea1a" stroke-width="1.15" transform="rotate(10 66.75 160.75)"/>
<ellipse cx="92.50" cy="159.00" rx="1.75" ry="1.45" fill="#706870" stroke="#1aea1a" stroke-width="1.15" transform="rotate(-6 92.50 159.00)"/>
<ellipse cx="56.75" cy="167.00" rx="1.75" ry="1.45" fill="#706870" stroke="#1aea1a" stroke-width="1.15" transform="rotate(-53 56.75 167.00)"/>
<ellipse cx="80.00" cy="167.50" rx="1.75" ry="1.45" fill="#706870" stroke="#1aea1a" stroke-width="1.15" transform="rotate(45 80.00 167.50)"/>
<ellipse cx="90.00" cy="166.25" rx="1.75" ry="1.45" fill="#706870" stroke="#1aea1a" stroke-width="1.15" transform="rotate(12 90.00 166.25)"/>
<ellipse cx="41.75" cy="172.50" rx="1.75" ry="1.45" fill="#706870" stroke="#1aea1a" stroke-width="1.15" transform="rotate(-45 41.75 172.50)"/>
<ellipse cx="73.00" cy="179.00" rx="1.75" ry="1.45" fill="#706870" stroke="#1aea1a" stroke-width="1.15" transform="rotate(-32 73.00 179.00)"/>
<ellipse cx="105.50" cy="103.25" rx="1.75" ry="1.45" fill="#706870" stroke="#1aea1a" stroke-width="1.15" transform="rotate(20 105.50 103.25)"/>
<ellipse cx="98.75" cy="110.00" rx="1.75" ry="1.45" fill="#706870" stroke="#1aea1a" stroke-width="1.15" transform="rotate(20 98.75 110.00)"/>
<ellipse cx="104.25" cy="117.00" rx="1.75" ry="1.45" fill="#706870" stroke="#1aea1a" stroke-width="1.15" transform="rotate(14 104.25 117.00)"/>
<ellipse cx="107.00" cy="124.50" rx="1.75" ry="1.45" fill="#706870" stroke="#1aea1a" stroke-width="1.15" transform="rotate(-53 107.00 124.50)"/>
<ellipse cx="103.00" cy="142.00" rx="1.75" ry="1.45" fill="#706870" stroke="#1aea1a" stroke-width="1.15" transform="rotate(13 103.00 142.00)"/>
<ellipse cx="99.25" cy="152.00" rx="1.75" ry="1.45" fill="#706870" stroke="#1aea1a" stroke-width="1.15" transform="rotate(14 99.25 152.00)"/>
<ellipse cx="105.50" cy="156.25" rx="1.75" ry="1.45" fill="#706870" stroke="#1aea1a" stroke-width="1.15" transform="rotate(-10 105.50 156.25)"/>
<ellipse cx="100.00" cy="164.00" rx="1.75" ry="1.45" fill="#706870" stroke="#1aea1a" stroke-width="1.15" transform="rotate(-54 100.00 164.00)"/>
<ellipse cx="104.25" cy="167.50" rx="1.75" ry="1.45" fill="#706870" stroke="#1aea1a" stroke-width="1.15" transform="rotate(-32 104.25 167.50)"/>
<rect x="27.5" y="96.9" width="26.5" height="16.2" fill="none" stroke="#ff1414" stroke-width="1.25"/>
<rect x="79.5" y="114.5" width="26.7" height="16.8" fill="none" stroke="#10e810" stroke-width="1.2"/>
<text x="17.6" y="108.3" style="font-size:12px;fill:#fff">E</text>
<rect x="88.20" y="179.60" width="18.3" height="8.8" fill="#0c0c0c"/>
<rect x="90.10" y="180.10" width="13.4" height="1.0" fill="#efefef"/>
<text x="89.30" y="187.60" textLength="16.3" lengthAdjust="spacingAndGlyphs" style="font-size:6.6px;font-weight:bold;fill:#fafafa">50 µm</text>
<rect x="4" y="95.4" width="104.5" height="0.9" fill="#666"/>
<rect x="15.5" y="188.3" width="92.5" height="0.9" fill="#181818"/>
<text class="rl" transform="translate(13.2,48.7) rotate(-90)" text-anchor="middle">MANUAL</text>
<text class="rl" transform="translate(13.2,143.2) rotate(-90)" text-anchor="middle">AUTOMATED</text>
<text class="rl" transform="translate(118.3,142.2) rotate(-90)" text-anchor="middle">COMPARISON</text>
<rect x="121" y="95.5" width="268.5" height="92.7" fill="#e6e6e6"/>
<text x="124.9" y="107.6" style="font-size:10.8px;fill:#111">A'</text>
<rect x="124.0" y="110.4" width="47.1" height="29.1" fill="#474747" filter="url(#nz)"/>
<g filter="url(#bl)">
<circle cx="135.7" cy="126.1" r="1.9" fill="#949494" opacity="0.31"/>
<circle cx="153.2" cy="113.2" r="1.2" fill="#949494" opacity="0.39"/>
<circle cx="136.7" cy="117.8" r="3.1" fill="#949494" opacity="0.26"/>
<circle cx="162.7" cy="124.3" r="2.4" fill="#949494" opacity="0.15"/>
<circle cx="153.6" cy="134.9" r="2.2" fill="#949494" opacity="0.36"/>
<circle cx="155.3" cy="113.1" r="2.7" fill="#949494" opacity="0.31"/>
<circle cx="138.6" cy="112.2" r="2.9" fill="#949494" opacity="0.27"/>
<circle cx="157.4" cy="135.2" r="2.6" fill="#949494" opacity="0.42"/>
<circle cx="142.8" cy="133.1" r="2.1" fill="#949494" opacity="0.43"/>
</g>
<circle cx="165.40" cy="116.90" r="2.35" fill="#8e8e8e" stroke="#18e418" stroke-width="1.35"/>
<circle cx="128.90" cy="124.30" r="2.35" fill="#f2fff2" stroke="#20ea20" stroke-width="1.35"/>
<circle cx="135.30" cy="125.70" r="2.35" fill="#f2fff2" stroke="#20ea20" stroke-width="1.35"/>
<circle cx="151.40" cy="124.70" r="2.35" fill="#8e8e8e" stroke="#18e418" stroke-width="1.35"/>
<circle cx="149.00" cy="134.00" r="2.35" fill="#f2fff2" stroke="#20ea20" stroke-width="1.35"/>
<rect x="124.0" y="110.4" width="47.1" height="29.1" fill="none" stroke="#22cc22" stroke-width="0.9"/>
<rect x="124.0" y="149.0" width="47.1" height="29.1" fill="#474747" filter="url(#nz)"/>
<g filter="url(#bl)">
<circle cx="135.6" cy="152.8" r="2.0" fill="#949494" opacity="0.15"/>
<circle cx="128.0" cy="160.9" r="3.0" fill="#949494" opacity="0.38"/>
<circle cx="159.5" cy="156.0" r="2.2" fill="#949494" opacity="0.20"/>
<circle cx="132.8" cy="152.9" r="1.6" fill="#949494" opacity="0.42"/>
<circle cx="162.4" cy="171.9" r="2.8" fill="#949494" opacity="0.17"/>
<circle cx="139.0" cy="167.0" r="2.6" fill="#949494" opacity="0.40"/>
<circle cx="164.7" cy="152.4" r="2.4" fill="#949494" opacity="0.34"/>
<circle cx="147.8" cy="154.8" r="2.1" fill="#949494" opacity="0.13"/>
<circle cx="167.1" cy="173.5" r="2.3" fill="#949494" opacity="0.21"/>
</g>
<circle cx="129.3" cy="157.9" r="2.4" fill="#8c8c8c" filter="url(#bl)"/>
<circle cx="155.0" cy="165.0" r="2.5" fill="#7c7c7c" filter="url(#bl)"/>
<circle cx="134.3" cy="162.9" r="2.2" fill="#6c6c6c" filter="url(#bl)"/>
<circle cx="158.6" cy="155.7" r="0.7" fill="#c8c8c8"/>
<circle cx="152.10" cy="153.30" r="2.35" fill="#8e8e8e" stroke="#18e418" stroke-width="1.35"/>
<circle cx="145.70" cy="163.30" r="2.35" fill="#8e8e8e" stroke="#18e418" stroke-width="1.35"/>
<circle cx="131.70" cy="171.00" r="2.35" fill="#8e8e8e" stroke="#18e418" stroke-width="1.35"/>
<circle cx="142.90" cy="174.00" r="2.35" fill="#8e8e8e" stroke="#18e418" stroke-width="1.35"/>
<path d="M131.40 157.20 L136.40 150.30 L137.70 153.70 L140.20 155.50 Z" fill="#fff"/>
<rect x="124.0" y="149.0" width="47.1" height="29.1" fill="none" stroke="#e02a1c" stroke-width="1"/>
<text x="177.3" y="107.6" style="font-size:10.8px;fill:#111">B'</text>
<rect x="176.4" y="110.4" width="47.1" height="29.1" fill="#474747" filter="url(#nz)"/>
<g filter="url(#bl)">
<circle cx="188.1" cy="126.1" r="1.9" fill="#949494" opacity="0.31"/>
<circle cx="205.6" cy="113.2" r="1.2" fill="#949494" opacity="0.39"/>
<circle cx="189.1" cy="117.8" r="3.1" fill="#949494" opacity="0.26"/>
<circle cx="215.1" cy="124.3" r="2.4" fill="#949494" opacity="0.15"/>
<circle cx="206.0" cy="134.9" r="2.2" fill="#949494" opacity="0.36"/>
<circle cx="207.7" cy="113.1" r="2.7" fill="#949494" opacity="0.31"/>
<circle cx="191.0" cy="112.2" r="2.9" fill="#949494" opacity="0.27"/>
<circle cx="209.8" cy="135.2" r="2.6" fill="#949494" opacity="0.42"/>
<circle cx="195.2" cy="133.1" r="2.1" fill="#949494" opacity="0.43"/>
</g>
<circle cx="217.80" cy="116.90" r="2.35" fill="#8e8e8e" stroke="#18e418" stroke-width="1.35"/>
<circle cx="181.30" cy="124.30" r="2.35" fill="#f2fff2" stroke="#20ea20" stroke-width="1.35"/>
<circle cx="187.70" cy="125.70" r="2.35" fill="#f2fff2" stroke="#20ea20" stroke-width="1.35"/>
<circle cx="203.80" cy="124.70" r="2.35" fill="#8e8e8e" stroke="#18e418" stroke-width="1.35"/>
<circle cx="201.40" cy="134.00" r="2.35" fill="#f2fff2" stroke="#20ea20" stroke-width="1.35"/>
<rect x="176.4" y="110.4" width="47.1" height="29.1" fill="none" stroke="#22cc22" stroke-width="0.9"/>
<rect x="176.4" y="149.0" width="47.1" height="29.1" fill="#474747" filter="url(#nz)"/>
<g filter="url(#bl)">
<circle cx="188.0" cy="152.8" r="2.0" fill="#949494" opacity="0.15"/>
<circle cx="180.4" cy="160.9" r="3.0" fill="#949494" opacity="0.38"/>
<circle cx="211.9" cy="156.0" r="2.2" fill="#949494" opacity="0.20"/>
<circle cx="185.2" cy="152.9" r="1.6" fill="#949494" opacity="0.42"/>
<circle cx="214.8" cy="171.9" r="2.8" fill="#949494" opacity="0.17"/>
<circle cx="191.4" cy="167.0" r="2.6" fill="#949494" opacity="0.40"/>
<circle cx="217.1" cy="152.4" r="2.4" fill="#949494" opacity="0.34"/>
<circle cx="200.2" cy="154.8" r="2.1" fill="#949494" opacity="0.13"/>
<circle cx="219.5" cy="173.5" r="2.3" fill="#949494" opacity="0.21"/>
</g>
<circle cx="181.70000000000002" cy="157.9" r="2.4" fill="#8c8c8c" filter="url(#bl)"/>
<circle cx="207.4" cy="165.0" r="2.5" fill="#7c7c7c" filter="url(#bl)"/>
<circle cx="186.70000000000002" cy="162.9" r="2.2" fill="#6c6c6c" filter="url(#bl)"/>
<circle cx="211.0" cy="155.7" r="0.7" fill="#c8c8c8"/>
<circle cx="204.50" cy="153.30" r="2.35" fill="#8e8e8e" stroke="#18e418" stroke-width="1.35"/>
<circle cx="198.10" cy="163.30" r="2.35" fill="#8e8e8e" stroke="#18e418" stroke-width="1.35"/>
<circle cx="184.10" cy="171.00" r="2.35" fill="#8e8e8e" stroke="#18e418" stroke-width="1.35"/>
<circle cx="195.30" cy="174.00" r="2.35" fill="#8e8e8e" stroke="#18e418" stroke-width="1.35"/>
<circle cx="181.60" cy="157.60" r="2.35" fill="#8e8e8e" stroke="#18e418" stroke-width="1.35"/>
<path d="M183.80 157.20 L188.80 150.30 L190.10 153.70 L192.60 155.50 Z" fill="#fff"/>
<rect x="176.4" y="149.0" width="47.1" height="29.1" fill="none" stroke="#e02a1c" stroke-width="1"/>
<text x="229.6" y="107.6" style="font-size:10.8px;fill:#111">C'</text>
<rect x="228.7" y="110.4" width="47.1" height="29.1" fill="#474747" filter="url(#nz)"/>
<g filter="url(#bl)">
<circle cx="240.4" cy="126.1" r="1.9" fill="#949494" opacity="0.31"/>
<circle cx="257.9" cy="113.2" r="1.2" fill="#949494" opacity="0.39"/>
<circle cx="241.4" cy="117.8" r="3.1" fill="#949494" opacity="0.26"/>
<circle cx="267.4" cy="124.3" r="2.4" fill="#949494" opacity="0.15"/>
<circle cx="258.3" cy="134.9" r="2.2" fill="#949494" opacity="0.36"/>
<circle cx="260.0" cy="113.1" r="2.7" fill="#949494" opacity="0.31"/>
<circle cx="243.3" cy="112.2" r="2.9" fill="#949494" opacity="0.27"/>
<circle cx="262.1" cy="135.2" r="2.6" fill="#949494" opacity="0.42"/>
<circle cx="247.5" cy="133.1" r="2.1" fill="#949494" opacity="0.43"/>
</g>
<circle cx="270.10" cy="116.90" r="2.35" fill="#8e8e8e" stroke="#18e418" stroke-width="1.35"/>
<circle cx="233.60" cy="124.30" r="2.35" fill="#f2fff2" stroke="#20ea20" stroke-width="1.35"/>
<circle cx="240.00" cy="125.70" r="2.35" fill="#f2fff2" stroke="#20ea20" stroke-width="1.35"/>
<circle cx="256.10" cy="124.70" r="2.35" fill="#8e8e8e" stroke="#18e418" stroke-width="1.35"/>
<circle cx="253.70" cy="134.00" r="2.35" fill="#f2fff2" stroke="#20ea20" stroke-width="1.35"/>
<rect x="228.7" y="110.4" width="47.1" height="29.1" fill="none" stroke="#22cc22" stroke-width="0.9"/>
<rect x="228.7" y="149.0" width="47.1" height="29.1" fill="#474747" filter="url(#nz)"/>
<g filter="url(#bl)">
<circle cx="240.3" cy="152.8" r="2.0" fill="#949494" opacity="0.15"/>
<circle cx="232.7" cy="160.9" r="3.0" fill="#949494" opacity="0.38"/>
<circle cx="264.2" cy="156.0" r="2.2" fill="#949494" opacity="0.20"/>
<circle cx="237.5" cy="152.9" r="1.6" fill="#949494" opacity="0.42"/>
<circle cx="267.1" cy="171.9" r="2.8" fill="#949494" opacity="0.17"/>
<circle cx="243.7" cy="167.0" r="2.6" fill="#949494" opacity="0.40"/>
<circle cx="269.4" cy="152.4" r="2.4" fill="#949494" opacity="0.34"/>
<circle cx="252.5" cy="154.8" r="2.1" fill="#949494" opacity="0.13"/>
<circle cx="271.8" cy="173.5" r="2.3" fill="#949494" opacity="0.21"/>
</g>
<circle cx="234.0" cy="157.9" r="2.4" fill="#8c8c8c" filter="url(#bl)"/>
<circle cx="259.7" cy="165.0" r="2.5" fill="#7c7c7c" filter="url(#bl)"/>
<circle cx="239.0" cy="162.9" r="2.2" fill="#6c6c6c" filter="url(#bl)"/>
<circle cx="263.3" cy="155.7" r="0.7" fill="#c8c8c8"/>
<circle cx="256.80" cy="153.30" r="2.35" fill="#8e8e8e" stroke="#18e418" stroke-width="1.35"/>
<circle cx="250.40" cy="163.30" r="2.35" fill="#8e8e8e" stroke="#18e418" stroke-width="1.35"/>
<circle cx="236.40" cy="171.00" r="2.35" fill="#8e8e8e" stroke="#18e418" stroke-width="1.35"/>
<circle cx="247.60" cy="174.00" r="2.35" fill="#8e8e8e" stroke="#18e418" stroke-width="1.35"/>
<path d="M236.10 157.20 L241.10 150.30 L242.40 153.70 L244.90 155.50 Z" fill="#fff"/>
<rect x="228.7" y="149.0" width="47.1" height="29.1" fill="none" stroke="#e02a1c" stroke-width="1"/>
<text x="282.0" y="107.6" style="font-size:10.8px;fill:#111">D'</text>
<rect x="281.1" y="110.4" width="47.1" height="29.1" fill="#474747" filter="url(#nz)"/>
<g filter="url(#bl)">
<circle cx="292.8" cy="126.1" r="1.9" fill="#949494" opacity="0.31"/>
<circle cx="310.3" cy="113.2" r="1.2" fill="#949494" opacity="0.39"/>
<circle cx="293.8" cy="117.8" r="3.1" fill="#949494" opacity="0.26"/>
<circle cx="319.8" cy="124.3" r="2.4" fill="#949494" opacity="0.15"/>
<circle cx="310.7" cy="134.9" r="2.2" fill="#949494" opacity="0.36"/>
<circle cx="312.4" cy="113.1" r="2.7" fill="#949494" opacity="0.31"/>
<circle cx="295.7" cy="112.2" r="2.9" fill="#949494" opacity="0.27"/>
<circle cx="314.5" cy="135.2" r="2.6" fill="#949494" opacity="0.42"/>
<circle cx="299.9" cy="133.1" r="2.1" fill="#949494" opacity="0.43"/>
</g>
<circle cx="322.50" cy="116.90" r="2.35" fill="#8e8e8e" stroke="#18e418" stroke-width="1.35"/>
<circle cx="286.00" cy="124.30" r="2.35" fill="#f2fff2" stroke="#20ea20" stroke-width="1.35"/>
<circle cx="292.40" cy="125.70" r="2.35" fill="#f2fff2" stroke="#20ea20" stroke-width="1.35"/>
<circle cx="308.50" cy="124.70" r="2.35" fill="#8e8e8e" stroke="#18e418" stroke-width="1.35"/>
<circle cx="306.10" cy="134.00" r="2.35" fill="#f2fff2" stroke="#20ea20" stroke-width="1.35"/>
<rect x="281.1" y="110.4" width="47.1" height="29.1" fill="none" stroke="#22cc22" stroke-width="0.9"/>
<rect x="281.1" y="149.0" width="47.1" height="29.1" fill="#474747" filter="url(#nz)"/>
<g filter="url(#bl)">
<circle cx="292.7" cy="152.8" r="2.0" fill="#949494" opacity="0.15"/>
<circle cx="285.1" cy="160.9" r="3.0" fill="#949494" opacity="0.38"/>
<circle cx="316.6" cy="156.0" r="2.2" fill="#949494" opacity="0.20"/>
<circle cx="289.9" cy="152.9" r="1.6" fill="#949494" opacity="0.42"/>
<circle cx="319.5" cy="171.9" r="2.8" fill="#949494" opacity="0.17"/>
<circle cx="296.1" cy="167.0" r="2.6" fill="#949494" opacity="0.40"/>
<circle cx="321.8" cy="152.4" r="2.4" fill="#949494" opacity="0.34"/>
<circle cx="304.9" cy="154.8" r="2.1" fill="#949494" opacity="0.13"/>
<circle cx="324.2" cy="173.5" r="2.3" fill="#949494" opacity="0.21"/>
</g>
<circle cx="286.40000000000003" cy="157.9" r="2.4" fill="#8c8c8c" filter="url(#bl)"/>
<circle cx="312.1" cy="165.0" r="2.5" fill="#7c7c7c" filter="url(#bl)"/>
<circle cx="291.40000000000003" cy="162.9" r="2.2" fill="#6c6c6c" filter="url(#bl)"/>
<circle cx="315.70000000000005" cy="155.7" r="0.7" fill="#c8c8c8"/>
<circle cx="309.20" cy="153.30" r="2.35" fill="#8e8e8e" stroke="#18e418" stroke-width="1.35"/>
<circle cx="302.80" cy="163.30" r="2.35" fill="#8e8e8e" stroke="#18e418" stroke-width="1.35"/>
<circle cx="288.80" cy="171.00" r="2.35" fill="#8e8e8e" stroke="#18e418" stroke-width="1.35"/>
<circle cx="300.00" cy="174.00" r="2.35" fill="#8e8e8e" stroke="#18e418" stroke-width="1.35"/>
<circle cx="286.30" cy="157.60" r="2.35" fill="#8e8e8e" stroke="#18e418" stroke-width="1.35"/>
<path d="M288.50 157.20 L293.50 150.30 L294.80 153.70 L297.30 155.50 Z" fill="#fff"/>
<rect x="281.1" y="149.0" width="47.1" height="29.1" fill="none" stroke="#e02a1c" stroke-width="1"/>
<text x="334.79999999999995" y="107.6" style="font-size:10.8px;fill:#111">E'</text>
<rect x="333.9" y="110.4" width="47.1" height="29.1" fill="#474747" filter="url(#nz)"/>
<g filter="url(#bl)">
<circle cx="345.6" cy="126.1" r="1.9" fill="#949494" opacity="0.31"/>
<circle cx="363.1" cy="113.2" r="1.2" fill="#949494" opacity="0.39"/>
<circle cx="346.6" cy="117.8" r="3.1" fill="#949494" opacity="0.26"/>
<circle cx="372.6" cy="124.3" r="2.4" fill="#949494" opacity="0.15"/>
<circle cx="363.5" cy="134.9" r="2.2" fill="#949494" opacity="0.36"/>
<circle cx="365.2" cy="113.1" r="2.7" fill="#949494" opacity="0.31"/>
<circle cx="348.5" cy="112.2" r="2.9" fill="#949494" opacity="0.27"/>
<circle cx="367.3" cy="135.2" r="2.6" fill="#949494" opacity="0.42"/>
<circle cx="352.7" cy="133.1" r="2.1" fill="#949494" opacity="0.43"/>
</g>
<circle cx="375.30" cy="116.90" r="2.60" fill="#8e8e8e" stroke="#18e418" stroke-width="1.35"/>
<circle cx="338.80" cy="124.30" r="2.60" fill="#f2fff2" stroke="#20ea20" stroke-width="1.35"/>
<circle cx="345.20" cy="125.70" r="2.60" fill="#f2fff2" stroke="#20ea20" stroke-width="1.35"/>
<circle cx="361.30" cy="124.70" r="2.60" fill="#8e8e8e" stroke="#18e418" stroke-width="1.35"/>
<circle cx="358.90" cy="134.00" r="2.60" fill="#f2fff2" stroke="#20ea20" stroke-width="1.35"/>
<rect x="333.9" y="110.4" width="47.1" height="29.1" fill="none" stroke="#22cc22" stroke-width="0.9"/>
<rect x="333.9" y="149.0" width="47.1" height="29.1" fill="#474747" filter="url(#nz)"/>
<g filter="url(#bl)">
<circle cx="345.5" cy="152.8" r="2.0" fill="#949494" opacity="0.15"/>
<circle cx="337.9" cy="160.9" r="3.0" fill="#949494" opacity="0.38"/>
<circle cx="369.4" cy="156.0" r="2.2" fill="#949494" opacity="0.20"/>
<circle cx="342.7" cy="152.9" r="1.6" fill="#949494" opacity="0.42"/>
<circle cx="372.3" cy="171.9" r="2.8" fill="#949494" opacity="0.17"/>
<circle cx="348.9" cy="167.0" r="2.6" fill="#949494" opacity="0.40"/>
<circle cx="374.6" cy="152.4" r="2.4" fill="#949494" opacity="0.34"/>
<circle cx="357.7" cy="154.8" r="2.1" fill="#949494" opacity="0.13"/>
<circle cx="377.0" cy="173.5" r="2.3" fill="#949494" opacity="0.21"/>
</g>
<circle cx="339.2" cy="157.9" r="2.4" fill="#8c8c8c" filter="url(#bl)"/>
<circle cx="364.9" cy="165.0" r="2.5" fill="#7c7c7c" filter="url(#bl)"/>
<circle cx="344.2" cy="162.9" r="2.2" fill="#6c6c6c" filter="url(#bl)"/>
<circle cx="368.5" cy="155.7" r="0.7" fill="#c8c8c8"/>
<circle cx="362.00" cy="153.30" r="2.35" fill="#8e8e8e" stroke="#18e418" stroke-width="1.35"/>
<circle cx="355.60" cy="163.30" r="2.35" fill="#8e8e8e" stroke="#18e418" stroke-width="1.35"/>
<circle cx="341.60" cy="171.00" r="2.35" fill="#8e8e8e" stroke="#18e418" stroke-width="1.35"/>
<circle cx="352.80" cy="174.00" r="2.35" fill="#8e8e8e" stroke="#18e418" stroke-width="1.35"/>
<circle cx="339.10" cy="157.60" r="2.35" fill="#8e8e8e" stroke="#18e418" stroke-width="1.35"/>
<ellipse cx="364.9" cy="165.3" rx="3.3" ry="2.6" fill="#8a8a8a" stroke="#18e418" stroke-width="1.1" transform="rotate(-25 364.9 165.3)"/>
<path d="M341.30 157.20 L346.30 150.30 L347.60 153.70 L350.10 155.50 Z" fill="#fff"/>
<rect x="333.9" y="149.0" width="47.1" height="29.1" fill="none" stroke="#e02a1c" stroke-width="1"/>
<rect x="26.2" y="215.5" width="168.0" height="84.5" fill="#e0e0e0"/>
<rect x="26.2" y="215.5" width="168.0" height="14.0" fill="#e9e9e9"/>
<text class="pl" x="16.9" y="202.8">F</text>
<text class="ti" x="40" y="206">Automated and Manual Fos Protein Counts</text>
<text class="tk" x="24.9" y="302.50" text-anchor="end">0</text>
<text class="tk" x="24.9" y="274.38" text-anchor="end">50</text>
<text class="tk" x="24.9" y="246.25" text-anchor="end">100</text>
<text class="tk" x="24.9" y="218.12" text-anchor="end">150</text>
<text class="tk" x="26.50" y="307.3" text-anchor="middle">0</text>
<text class="tk" x="55.45" y="307.3" text-anchor="middle">5</text>
<text class="tk" x="84.40" y="307.3" text-anchor="middle">10</text>
<text class="tk" x="113.35" y="307.3" text-anchor="middle">15</text>
<text class="tk" x="142.30" y="307.3" text-anchor="middle">20</text>
<text class="tk" x="171.25" y="307.3" text-anchor="middle">25</text>
<text class="ax" x="110.2" y="315.8" text-anchor="middle">Sample Images</text>
<text class="ax" transform="translate(13.2,257.7) rotate(-90)" text-anchor="middle">Fos Positive</text>
<polyline points="32.29,298.59 38.08,295.50 43.87,297.30 49.66,297.30 55.45,298.59 61.24,299.16 67.03,299.16 72.82,298.59 78.61,296.46 84.40,297.81 90.19,299.16 95.98,299.16 101.77,298.31 107.56,296.06 113.35,294.38 119.14,294.94 124.93,298.59 130.72,298.31 136.51,298.31 142.30,298.59 148.09,298.88 153.88,299.16 159.67,299.16 165.46,299.16 171.25,297.30 177.04,290.72 182.83,296.46 188.62,293.42" fill="none" stroke="#f6ae1c" stroke-width="1.3" stroke-linejoin="round"/>
<polyline points="32.29,282.17 38.08,280.88 43.87,279.47 49.66,277.67 55.45,271.88 61.24,292.86 67.03,286.27 72.82,287.62 78.61,289.31 84.40,287.12 90.19,289.76 95.98,291.96 101.77,292.52 107.56,290.16 113.35,289.31 119.14,287.62 124.93,285.21 130.72,287.06 136.51,288.41 142.30,291.51 148.09,289.31 153.88,284.81 159.67,290.16 165.46,294.38 171.25,289.31 177.04,283.97 182.83,289.31 188.62,278.23" fill="none" stroke="#63b127" stroke-width="1.3" stroke-linejoin="round"/>
<polyline points="32.29,274.46 38.08,276.38 43.87,270.52 49.66,276.77 55.45,264.62 61.24,293.42 67.03,293.81 72.82,288.41 78.61,277.67 84.40,291.68 90.19,293.14 95.98,293.81 101.77,287.51 107.56,285.71 113.35,285.71 119.14,287.51 124.93,276.43 130.72,286.61 136.51,288.41 142.30,293.81 148.09,287.62 153.88,283.12 159.67,289.31 165.46,293.81 171.25,286.61 177.04,273.56 182.83,283.97 188.62,271.88" fill="none" stroke="#f4581b" stroke-width="1.3" stroke-linejoin="round"/>
<polyline points="32.29,270.92 38.08,262.88 43.87,267.38 49.66,274.12 55.45,252.75 61.24,279.47 67.03,282.17 72.82,290.16 78.61,271.88 84.40,288.41 90.19,286.61 95.98,284.25 101.77,288.41 107.56,289.31 113.35,288.92 119.14,286.61 124.93,268.78 130.72,284.25 136.51,283.41 142.30,283.41 148.09,283.97 153.88,280.31 159.67,286.61 165.46,292.52 171.25,286.05 177.04,280.31 182.83,278.62 188.62,271.09" fill="none" stroke="#8e2aa6" stroke-width="1.3" stroke-linejoin="round"/>
<polyline points="32.29,249.38 38.08,253.59 43.87,257.53 49.66,251.62 55.45,232.50 61.24,284.81 67.03,278.62 72.82,276.94 78.61,264.28 84.40,278.06 90.19,285.38 95.98,287.06 101.77,282.56 107.56,275.36 113.35,260.34 119.14,267.38 124.93,255.73 130.72,274.12 136.51,273.23 142.30,282.56 148.09,277.67 153.88,269.62 159.67,282.17 165.46,291.00 171.25,279.47 177.04,250.89 182.83,272.32 188.62,253.59" fill="none" stroke="#1176c9" stroke-width="1.3" stroke-linejoin="round"/>
<rect x="26.25" y="323.5" width="168.8" height="21.3" fill="#e6e6e6"/>
<rect x="27.0" y="326.45000000000005" width="3.0" height="1.3" fill="#1176c9"/>
<text class="lg" x="30.5" y="329.1">Automated Quanty-cFOS Counts</text>
<rect x="27.0" y="333.35" width="3.0" height="1.3" fill="#f4581b"/>
<text class="lg" x="30.5" y="336.0">Manual Counts Experimenter 1</text>
<rect x="27.0" y="340.25" width="3.0" height="1.3" fill="#f6ae1c"/>
<text class="lg" x="30.5" y="342.9">Manual Counts Experimenter 2</text>
<rect x="113.5" y="326.45000000000005" width="3.0" height="1.3" fill="#8e2aa6"/>
<text class="lg" x="117" y="329.1">Manual Counts Experimenter 3</text>
<rect x="113.5" y="333.35" width="3.0" height="1.3" fill="#63b127"/>
<text class="lg" x="117" y="336.0">Manual Counts Experimenter 4</text>
<rect x="218.55" y="215.5" width="168.05" height="84.5" fill="#e0e0e0"/>
<rect x="218.55" y="215.5" width="168.05" height="14.0" fill="#e9e9e9"/>
<text class="pl" x="207" y="202.8">G</text>
<text class="ti" x="222.2" y="206">Automated and Manual Mean Fos Protein Counts</text>
<text class="tk" x="217.2" y="302.50" text-anchor="end">0</text>
<text class="tk" x="217.2" y="274.38" text-anchor="end">50</text>
<text class="tk" x="217.2" y="246.25" text-anchor="end">100</text>
<text class="tk" x="217.2" y="218.12" text-anchor="end">150</text>
<text class="tk" x="218.75" y="307.3" text-anchor="middle">0</text>
<text class="tk" x="247.70" y="307.3" text-anchor="middle">5</text>
<text class="tk" x="276.65" y="307.3" text-anchor="middle">10</text>
<text class="tk" x="305.60" y="307.3" text-anchor="middle">15</text>
<text class="tk" x="334.55" y="307.3" text-anchor="middle">20</text>
<text class="tk" x="363.50" y="307.3" text-anchor="middle">25</text>
<text class="ax" x="302.6" y="315.8" text-anchor="middle">Sample Images</text>
<text class="ax" transform="translate(205.2,257.7) rotate(-90)" text-anchor="middle">Fos Positive</text>
<path d="M224.54 276.94 C225.50 277.22 228.40 278.06 230.33 278.62 C232.26 279.19 234.19 279.78 236.12 280.31 C238.05 280.85 239.98 281.36 241.91 281.83 C243.84 282.30 245.77 282.58 247.70 283.12 C249.63 283.67 251.56 284.51 253.49 285.09 C255.42 285.68 257.35 286.24 259.28 286.61 C261.21 286.99 263.14 287.14 265.07 287.34 C267.00 287.55 268.93 287.68 270.86 287.85 C272.79 288.02 274.72 288.22 276.65 288.36 C278.58 288.50 280.51 288.59 282.44 288.69 C284.37 288.80 286.30 288.87 288.23 288.98 C290.16 289.08 292.09 289.20 294.02 289.31 C295.95 289.43 297.88 289.56 299.81 289.65 C301.74 289.74 303.67 289.79 305.60 289.88 C307.53 289.96 309.46 290.07 311.39 290.16 C313.32 290.24 315.25 290.32 317.18 290.38 C319.11 290.45 321.04 290.49 322.97 290.55 C324.90 290.61 326.83 290.65 328.76 290.72 C330.69 290.78 332.62 290.93 334.55 290.94 C336.48 290.95 338.41 290.90 340.34 290.77 C342.27 290.65 344.20 290.46 346.13 290.21 C348.06 289.97 349.99 289.60 351.92 289.31 C353.85 289.02 355.78 288.78 357.71 288.47 C359.64 288.16 361.57 287.91 363.50 287.46 C365.43 287.01 367.36 286.43 369.29 285.77 C371.22 285.11 373.15 284.43 375.08 283.52 C377.01 282.61 379.91 280.85 380.87 280.31" fill="none" stroke="#c20f2f" stroke-width="1.15" stroke-dasharray="4 2.4"/>
<path d="M224.54 296.54 L226.59 300.34 L222.49 300.34 Z" fill="#f6ae1c"/>
<path d="M230.33 293.45 L232.38 297.24 L228.28 297.24 Z" fill="#f6ae1c"/>
<path d="M236.12 295.25 L238.17 299.04 L234.07 299.04 Z" fill="#f6ae1c"/>
<path d="M241.91 295.25 L243.96 299.04 L239.86 299.04 Z" fill="#f6ae1c"/>
<path d="M247.70 296.54 L249.75 300.34 L245.65 300.34 Z" fill="#f6ae1c"/>
<path d="M253.49 297.11 L255.54 300.90 L251.44 300.90 Z" fill="#f6ae1c"/>
<path d="M259.28 297.11 L261.33 300.90 L257.23 300.90 Z" fill="#f6ae1c"/>
<path d="M265.07 296.54 L267.12 300.34 L263.02 300.34 Z" fill="#f6ae1c"/>
<path d="M270.86 294.41 L272.91 298.20 L268.81 298.20 Z" fill="#f6ae1c"/>
<path d="M276.65 295.76 L278.70 299.55 L274.60 299.55 Z" fill="#f6ae1c"/>
<path d="M282.44 297.11 L284.49 300.90 L280.39 300.90 Z" fill="#f6ae1c"/>
<path d="M288.23 297.11 L290.28 300.90 L286.18 300.90 Z" fill="#f6ae1c"/>
<path d="M294.02 296.26 L296.07 300.06 L291.97 300.06 Z" fill="#f6ae1c"/>
<path d="M299.81 294.01 L301.86 297.81 L297.76 297.81 Z" fill="#f6ae1c"/>
<path d="M305.60 292.32 L307.65 296.12 L303.55 296.12 Z" fill="#f6ae1c"/>
<path d="M311.39 292.89 L313.44 296.68 L309.34 296.68 Z" fill="#f6ae1c"/>
<path d="M317.18 296.54 L319.23 300.34 L315.13 300.34 Z" fill="#f6ae1c"/>
<path d="M322.97 296.26 L325.02 300.06 L320.92 300.06 Z" fill="#f6ae1c"/>
<path d="M328.76 296.26 L330.81 300.06 L326.71 300.06 Z" fill="#f6ae1c"/>
<path d="M334.55 296.54 L336.60 300.34 L332.50 300.34 Z" fill="#f6ae1c"/>
<path d="M340.34 296.82 L342.39 300.62 L338.29 300.62 Z" fill="#f6ae1c"/>
<path d="M346.13 297.11 L348.18 300.90 L344.08 300.90 Z" fill="#f6ae1c"/>
<path d="M351.92 297.11 L353.97 300.90 L349.87 300.90 Z" fill="#f6ae1c"/>
<path d="M357.71 297.11 L359.76 300.90 L355.66 300.90 Z" fill="#f6ae1c"/>
<path d="M363.50 295.25 L365.55 299.04 L361.45 299.04 Z" fill="#f6ae1c"/>
<path d="M369.29 288.67 L371.34 292.46 L367.24 292.46 Z" fill="#f6ae1c"/>
<path d="M375.08 294.41 L377.13 298.20 L373.03 298.20 Z" fill="#f6ae1c"/>
<path d="M380.87 291.37 L382.92 295.16 L378.82 295.16 Z" fill="#f6ae1c"/>
<path d="M224.54 272.41 L226.59 276.20 L222.49 276.20 Z" fill="#f4581b"/>
<path d="M224.54 268.87 L226.59 272.66 L222.49 272.66 Z" fill="#8e2aa6"/>
<path d="M230.33 274.32 L232.38 278.12 L228.28 278.12 Z" fill="#f4581b"/>
<path d="M230.33 260.82 L232.38 264.62 L228.28 264.62 Z" fill="#8e2aa6"/>
<path d="M236.12 268.47 L238.17 272.27 L234.07 272.27 Z" fill="#f4581b"/>
<path d="M236.12 265.32 L238.17 269.12 L234.07 269.12 Z" fill="#8e2aa6"/>
<path d="M241.91 274.72 L243.96 278.51 L239.86 278.51 Z" fill="#f4581b"/>
<path d="M241.91 272.07 L243.96 275.87 L239.86 275.87 Z" fill="#8e2aa6"/>
<path d="M247.70 262.57 L249.75 266.36 L245.65 266.36 Z" fill="#f4581b"/>
<path d="M247.70 250.70 L249.75 254.49 L245.65 254.49 Z" fill="#8e2aa6"/>
<path d="M253.49 291.37 L255.54 295.16 L251.44 295.16 Z" fill="#f4581b"/>
<path d="M253.49 277.42 L255.54 281.21 L251.44 281.21 Z" fill="#8e2aa6"/>
<path d="M259.28 291.76 L261.33 295.56 L257.23 295.56 Z" fill="#f4581b"/>
<path d="M259.28 280.12 L261.33 283.91 L257.23 283.91 Z" fill="#8e2aa6"/>
<path d="M265.07 286.36 L267.12 290.16 L263.02 290.16 Z" fill="#f4581b"/>
<path d="M265.07 288.11 L267.12 291.90 L263.02 291.90 Z" fill="#8e2aa6"/>
<path d="M270.86 275.62 L272.91 279.41 L268.81 279.41 Z" fill="#f4581b"/>
<path d="M270.86 269.82 L272.91 273.62 L268.81 273.62 Z" fill="#8e2aa6"/>
<path d="M276.65 289.62 L278.70 293.42 L274.60 293.42 Z" fill="#f4581b"/>
<path d="M276.65 286.36 L278.70 290.16 L274.60 290.16 Z" fill="#8e2aa6"/>
<path d="M282.44 291.09 L284.49 294.88 L280.39 294.88 Z" fill="#f4581b"/>
<path d="M282.44 284.56 L284.49 288.36 L280.39 288.36 Z" fill="#8e2aa6"/>
<path d="M288.23 291.76 L290.28 295.56 L286.18 295.56 Z" fill="#f4581b"/>
<path d="M288.23 282.20 L290.28 285.99 L286.18 285.99 Z" fill="#8e2aa6"/>
<path d="M294.02 285.46 L296.07 289.25 L291.97 289.25 Z" fill="#f4581b"/>
<path d="M294.02 286.36 L296.07 290.16 L291.97 290.16 Z" fill="#8e2aa6"/>
<path d="M299.81 283.66 L301.86 287.45 L297.76 287.45 Z" fill="#f4581b"/>
<path d="M299.81 287.26 L301.86 291.06 L297.76 291.06 Z" fill="#8e2aa6"/>
<path d="M305.60 283.66 L307.65 287.45 L303.55 287.45 Z" fill="#f4581b"/>
<path d="M305.60 286.87 L307.65 290.66 L303.55 290.66 Z" fill="#8e2aa6"/>
<path d="M311.39 285.46 L313.44 289.25 L309.34 289.25 Z" fill="#f4581b"/>
<path d="M311.39 284.56 L313.44 288.36 L309.34 288.36 Z" fill="#8e2aa6"/>
<path d="M317.18 274.38 L319.23 278.17 L315.13 278.17 Z" fill="#f4581b"/>
<path d="M317.18 266.73 L319.23 270.52 L315.13 270.52 Z" fill="#8e2aa6"/>
<path d="M322.97 284.56 L325.02 288.36 L320.92 288.36 Z" fill="#f4581b"/>
<path d="M322.97 282.20 L325.02 285.99 L320.92 285.99 Z" fill="#8e2aa6"/>
<path d="M328.76 286.36 L330.81 290.16 L326.71 290.16 Z" fill="#f4581b"/>
<path d="M328.76 281.36 L330.81 285.15 L326.71 285.15 Z" fill="#8e2aa6"/>
<path d="M334.55 291.76 L336.60 295.56 L332.50 295.56 Z" fill="#f4581b"/>
<path d="M334.55 281.36 L336.60 285.15 L332.50 285.15 Z" fill="#8e2aa6"/>
<path d="M340.34 285.57 L342.39 289.37 L338.29 289.37 Z" fill="#f4581b"/>
<path d="M340.34 281.92 L342.39 285.71 L338.29 285.71 Z" fill="#8e2aa6"/>
<path d="M346.13 281.07 L348.18 284.87 L344.08 284.87 Z" fill="#f4581b"/>
<path d="M346.13 278.26 L348.18 282.06 L344.08 282.06 Z" fill="#8e2aa6"/>
<path d="M351.92 287.26 L353.97 291.06 L349.87 291.06 Z" fill="#f4581b"/>
<path d="M351.92 284.56 L353.97 288.36 L349.87 288.36 Z" fill="#8e2aa6"/>
<path d="M357.71 291.76 L359.76 295.56 L355.66 295.56 Z" fill="#f4581b"/>
<path d="M357.71 290.47 L359.76 294.26 L355.66 294.26 Z" fill="#8e2aa6"/>
<path d="M363.50 284.56 L365.55 288.36 L361.45 288.36 Z" fill="#f4581b"/>
<path d="M363.50 284.00 L365.55 287.79 L361.45 287.79 Z" fill="#8e2aa6"/>
<path d="M369.29 271.51 L371.34 275.31 L367.24 275.31 Z" fill="#f4581b"/>
<path d="M369.29 278.26 L371.34 282.06 L367.24 282.06 Z" fill="#8e2aa6"/>
<path d="M375.08 281.92 L377.13 285.71 L373.03 285.71 Z" fill="#f4581b"/>
<path d="M375.08 276.57 L377.13 280.37 L373.03 280.37 Z" fill="#8e2aa6"/>
<path d="M380.87 269.82 L382.92 273.62 L378.82 273.62 Z" fill="#f4581b"/>
<path d="M380.87 269.04 L382.92 272.83 L378.82 272.83 Z" fill="#8e2aa6"/>
<circle cx="224.54" cy="281.54" r="1.8" fill="#c20f2f"/>
<circle cx="230.33" cy="278.91" r="1.8" fill="#c20f2f"/>
<circle cx="236.12" cy="278.67" r="1.8" fill="#c20f2f"/>
<circle cx="241.91" cy="281.47" r="1.8" fill="#c20f2f"/>
<circle cx="247.70" cy="271.96" r="1.8" fill="#c20f2f"/>
<circle cx="253.49" cy="291.23" r="1.8" fill="#c20f2f"/>
<circle cx="259.28" cy="290.35" r="1.8" fill="#c20f2f"/>
<circle cx="265.07" cy="291.20" r="1.8" fill="#c20f2f"/>
<circle cx="270.86" cy="283.83" r="1.8" fill="#c20f2f"/>
<circle cx="276.65" cy="291.25" r="1.8" fill="#c20f2f"/>
<circle cx="282.44" cy="292.17" r="1.8" fill="#c20f2f"/>
<circle cx="288.23" cy="292.29" r="1.8" fill="#c20f2f"/>
<circle cx="294.02" cy="291.69" r="1.8" fill="#c20f2f"/>
<circle cx="299.81" cy="290.31" r="1.8" fill="#c20f2f"/>
<circle cx="305.60" cy="289.58" r="1.8" fill="#c20f2f"/>
<circle cx="311.39" cy="289.17" r="1.8" fill="#c20f2f"/>
<circle cx="317.18" cy="282.25" r="1.8" fill="#c20f2f"/>
<circle cx="322.97" cy="289.06" r="1.8" fill="#c20f2f"/>
<circle cx="328.76" cy="289.64" r="1.8" fill="#c20f2f"/>
<circle cx="334.55" cy="291.83" r="1.8" fill="#c20f2f"/>
<circle cx="340.34" cy="289.95" r="1.8" fill="#c20f2f"/>
<circle cx="346.13" cy="286.85" r="1.8" fill="#c20f2f"/>
<circle cx="351.92" cy="291.31" r="1.8" fill="#c20f2f"/>
<circle cx="357.71" cy="294.97" r="1.8" fill="#c20f2f"/>
<circle cx="363.50" cy="289.82" r="1.8" fill="#c20f2f"/>
<circle cx="369.29" cy="282.14" r="1.8" fill="#c20f2f"/>
<circle cx="375.08" cy="287.09" r="1.8" fill="#c20f2f"/>
<circle cx="380.87" cy="278.65" r="1.8" fill="#c20f2f"/>
<path d="M224.54 280.12 L226.59 283.91 L222.49 283.91 Z" fill="#63b127"/>
<path d="M230.33 278.82 L232.38 282.62 L228.28 282.62 Z" fill="#63b127"/>
<path d="M236.12 277.42 L238.17 281.21 L234.07 281.21 Z" fill="#63b127"/>
<path d="M241.91 275.62 L243.96 279.41 L239.86 279.41 Z" fill="#63b127"/>
<path d="M247.70 269.82 L249.75 273.62 L245.65 273.62 Z" fill="#63b127"/>
<path d="M253.49 290.81 L255.54 294.60 L251.44 294.60 Z" fill="#63b127"/>
<path d="M259.28 284.22 L261.33 288.02 L257.23 288.02 Z" fill="#63b127"/>
<path d="M265.07 285.57 L267.12 289.37 L263.02 289.37 Z" fill="#63b127"/>
<path d="M270.86 287.26 L272.91 291.06 L268.81 291.06 Z" fill="#63b127"/>
<path d="M276.65 285.07 L278.70 288.86 L274.60 288.86 Z" fill="#63b127"/>
<path d="M282.44 287.71 L284.49 291.50 L280.39 291.50 Z" fill="#63b127"/>
<path d="M288.23 289.91 L290.28 293.70 L286.18 293.70 Z" fill="#63b127"/>
<path d="M294.02 290.47 L296.07 294.26 L291.97 294.26 Z" fill="#63b127"/>
<path d="M299.81 288.11 L301.86 291.90 L297.76 291.90 Z" fill="#63b127"/>
<path d="M305.60 287.26 L307.65 291.06 L303.55 291.06 Z" fill="#63b127"/>
<path d="M311.39 285.57 L313.44 289.37 L309.34 289.37 Z" fill="#63b127"/>
<path d="M317.18 283.16 L319.23 286.95 L315.13 286.95 Z" fill="#63b127"/>
<path d="M322.97 285.01 L325.02 288.81 L320.92 288.81 Z" fill="#63b127"/>
<path d="M328.76 286.36 L330.81 290.16 L326.71 290.16 Z" fill="#63b127"/>
<path d="M334.55 289.46 L336.60 293.25 L332.50 293.25 Z" fill="#63b127"/>
<path d="M340.34 287.26 L342.39 291.06 L338.29 291.06 Z" fill="#63b127"/>
<path d="M346.13 282.76 L348.18 286.56 L344.08 286.56 Z" fill="#63b127"/>
<path d="M351.92 288.11 L353.97 291.90 L349.87 291.90 Z" fill="#63b127"/>
<path d="M357.71 292.32 L359.76 296.12 L355.66 296.12 Z" fill="#63b127"/>
<path d="M363.50 287.26 L365.55 291.06 L361.45 291.06 Z" fill="#63b127"/>
<path d="M369.29 281.92 L371.34 285.71 L367.24 285.71 Z" fill="#63b127"/>
<path d="M375.08 287.26 L377.13 291.06 L373.03 291.06 Z" fill="#63b127"/>
<path d="M380.87 276.18 L382.92 279.97 L378.82 279.97 Z" fill="#63b127"/>
<circle cx="224.54" cy="249.38" r="2.05" fill="#1176c9" stroke="#f4f4f4" stroke-width="0.5"/>
<circle cx="230.33" cy="253.59" r="2.05" fill="#1176c9" stroke="#f4f4f4" stroke-width="0.5"/>
<circle cx="236.12" cy="257.53" r="2.05" fill="#1176c9" stroke="#f4f4f4" stroke-width="0.5"/>
<circle cx="241.91" cy="251.62" r="2.05" fill="#1176c9" stroke="#f4f4f4" stroke-width="0.5"/>
<circle cx="247.70" cy="232.50" r="2.05" fill="#1176c9" stroke="#f4f4f4" stroke-width="0.5"/>
<circle cx="253.49" cy="284.81" r="2.05" fill="#1176c9" stroke="#f4f4f4" stroke-width="0.5"/>
<circle cx="259.28" cy="278.62" r="2.05" fill="#1176c9" stroke="#f4f4f4" stroke-width="0.5"/>
<circle cx="265.07" cy="276.94" r="2.05" fill="#1176c9" stroke="#f4f4f4" stroke-width="0.5"/>
<circle cx="270.86" cy="264.28" r="2.05" fill="#1176c9" stroke="#f4f4f4" stroke-width="0.5"/>
<circle cx="276.65" cy="278.06" r="2.05" fill="#1176c9" stroke="#f4f4f4" stroke-width="0.5"/>
<circle cx="282.44" cy="285.38" r="2.05" fill="#1176c9" stroke="#f4f4f4" stroke-width="0.5"/>
<circle cx="288.23" cy="287.06" r="2.05" fill="#1176c9" stroke="#f4f4f4" stroke-width="0.5"/>
<circle cx="294.02" cy="282.56" r="2.05" fill="#1176c9" stroke="#f4f4f4" stroke-width="0.5"/>
<circle cx="299.81" cy="275.36" r="2.05" fill="#1176c9" stroke="#f4f4f4" stroke-width="0.5"/>
<circle cx="305.60" cy="260.34" r="2.05" fill="#1176c9" stroke="#f4f4f4" stroke-width="0.5"/>
<circle cx="311.39" cy="267.38" r="2.05" fill="#1176c9" stroke="#f4f4f4" stroke-width="0.5"/>
<circle cx="317.18" cy="255.73" r="2.05" fill="#1176c9" stroke="#f4f4f4" stroke-width="0.5"/>
<circle cx="322.97" cy="274.12" r="2.05" fill="#1176c9" stroke="#f4f4f4" stroke-width="0.5"/>
<circle cx="328.76" cy="273.23" r="2.05" fill="#1176c9" stroke="#f4f4f4" stroke-width="0.5"/>
<circle cx="334.55" cy="282.56" r="2.05" fill="#1176c9" stroke="#f4f4f4" stroke-width="0.5"/>
<circle cx="340.34" cy="277.67" r="2.05" fill="#1176c9" stroke="#f4f4f4" stroke-width="0.5"/>
<circle cx="346.13" cy="269.62" r="2.05" fill="#1176c9" stroke="#f4f4f4" stroke-width="0.5"/>
<circle cx="351.92" cy="282.17" r="2.05" fill="#1176c9" stroke="#f4f4f4" stroke-width="0.5"/>
<circle cx="357.71" cy="291.00" r="2.05" fill="#1176c9" stroke="#f4f4f4" stroke-width="0.5"/>
<circle cx="363.50" cy="279.47" r="2.05" fill="#1176c9" stroke="#f4f4f4" stroke-width="0.5"/>
<circle cx="369.29" cy="250.89" r="2.05" fill="#1176c9" stroke="#f4f4f4" stroke-width="0.5"/>
<circle cx="375.08" cy="272.32" r="2.05" fill="#1176c9" stroke="#f4f4f4" stroke-width="0.5"/>
<circle cx="380.87" cy="253.59" r="2.05" fill="#1176c9" stroke="#f4f4f4" stroke-width="0.5"/>
<path d="M224.54 242.06 C225.50 243.09 228.40 246.33 230.33 248.25 C232.26 250.17 234.19 251.67 236.12 253.59 C238.05 255.52 239.98 257.86 241.91 259.78 C243.84 261.70 245.77 263.72 247.70 265.12 C249.63 266.53 251.56 267.32 253.49 268.22 C255.42 269.12 257.35 269.94 259.28 270.52 C261.21 271.11 263.14 271.39 265.07 271.71 C267.00 272.03 268.93 272.24 270.86 272.44 C272.79 272.63 274.72 272.77 276.65 272.89 C278.58 273.00 280.51 273.06 282.44 273.11 C284.37 273.17 286.30 273.18 288.23 273.23 C290.16 273.27 292.09 273.34 294.02 273.39 C295.95 273.45 297.88 273.47 299.81 273.56 C301.74 273.66 303.67 273.81 305.60 273.96 C307.53 274.11 309.46 274.29 311.39 274.46 C313.32 274.63 315.25 274.79 317.18 274.97 C319.11 275.15 321.04 275.33 322.97 275.53 C324.90 275.73 326.83 275.90 328.76 276.15 C330.69 276.40 332.62 276.81 334.55 277.05 C336.48 277.29 338.41 277.55 340.34 277.61 C342.27 277.68 344.20 277.58 346.13 277.44 C348.06 277.30 349.99 277.15 351.92 276.77 C353.85 276.38 355.78 275.79 357.71 275.14 C359.64 274.48 361.57 273.75 363.50 272.83 C365.43 271.91 367.36 270.91 369.29 269.62 C371.22 268.34 373.15 267.06 375.08 265.12 C377.01 263.19 379.91 259.22 380.87 258.04" fill="none" stroke="#1176c9" stroke-width="1.15" stroke-dasharray="4 2.4"/>
<rect x="218.5" y="323.7" width="169.6" height="29.4" fill="#e6e6e6"/>
<circle cx="220.5" cy="328" r="2.0" fill="#1176c9"/>
<text class="lg" x="223" y="330">Automated Quanty-cFOS Counts</text>
<rect x="219.2" y="334.15000000000003" width="2.7" height="1.3" fill="#1176c9"/>
<text class="lg" x="223" y="336.8">Qunaty-cFOS Slope</text>
<circle cx="220.5" cy="341.6" r="2.0" fill="#c20f2f"/>
<text class="lg" x="223" y="343.6">Mean Manual Counts</text>
<rect x="219.2" y="347.75" width="2.7" height="1.3" fill="#c20f2f"/>
<text class="lg" x="223" y="350.4">Manual Slope Counts</text>
<path d="M307.00 326.30 L308.70 329.44 L305.30 329.44 Z" fill="#f4581b"/>
<text class="lg" x="309.5" y="330">Manual Counts Experimenter 1</text>
<path d="M307.00 333.10 L308.70 336.25 L305.30 336.25 Z" fill="#f6ae1c"/>
<text class="lg" x="309.5" y="336.8">Manual Counts Experimenter 2</text>
<path d="M307.00 339.90 L308.70 343.05 L305.30 343.05 Z" fill="#8e2aa6"/>
<text class="lg" x="309.5" y="343.6">Manual Counts Experimenter 3</text>
<path d="M307.00 346.70 L308.70 349.84 L305.30 349.84 Z" fill="#63b127"/>
<text class="lg" x="309.5" y="350.4">Manual Counts Experimenter 4</text>
<rect x="59.5" y="381.5" width="290" height="123" fill="#e2e2e2"/>
<rect x="59.5" y="489.8" width="290" height="14.7" fill="#e9e9e9"/>
<rect x="59.5" y="497" width="290" height="7.5" fill="#eeeeee"/>
<text class="pl" x="16.9" y="366.4">H</text>
<text class="ti" x="206.6" y="372.0" text-anchor="middle">Z-Score: Fos Protein Counts</text>
<text class="tk" style="font-size:6.4px" x="58.2" y="507.30" text-anchor="end">-3</text>
<text class="tk" style="font-size:6.4px" x="58.2" y="486.80" text-anchor="end">-2</text>
<text class="tk" style="font-size:6.4px" x="58.2" y="466.30" text-anchor="end">-1</text>
<text class="tk" style="font-size:6.4px" x="58.2" y="445.80" text-anchor="end">0</text>
<text class="tk" style="font-size:6.4px" x="58.2" y="425.30" text-anchor="end">1</text>
<text class="tk" style="font-size:6.4px" x="58.2" y="404.80" text-anchor="end">2</text>
<text class="tk" style="font-size:6.4px" x="58.2" y="384.30" text-anchor="end">3</text>
<text class="tk" style="font-size:6.4px" x="59.50" y="512.9" text-anchor="middle">0</text>
<text class="tk" style="font-size:6.4px" x="109.50" y="512.9" text-anchor="middle">5</text>
<text class="tk" style="font-size:6.4px" x="159.50" y="512.9" text-anchor="middle">10</text>
<text class="tk" style="font-size:6.4px" x="209.50" y="512.9" text-anchor="middle">15</text>
<text class="tk" style="font-size:6.4px" x="259.50" y="512.9" text-anchor="middle">20</text>
<text class="tk" style="font-size:6.4px" x="309.50" y="512.9" text-anchor="middle">25</text>
<text class="ax" x="204.5" y="521.6" text-anchor="middle">Sample Images</text>
<text class="ax" transform="translate(51,443.5) rotate(-90)" text-anchor="middle">Sigma</text>
<path d="M69.50 411.73 C71.17 413.06 76.17 417.23 79.50 419.72 C82.83 422.21 86.17 424.47 89.50 426.69 C92.83 428.91 96.17 431.23 99.50 433.05 C102.83 434.86 106.17 436.19 109.50 437.56 C112.83 438.92 116.17 440.29 119.50 441.25 C122.83 442.20 126.17 442.71 129.50 443.30 C132.83 443.88 136.17 444.25 139.50 444.73 C142.83 445.21 146.17 445.69 149.50 446.17 C152.83 446.64 156.17 447.22 159.50 447.60 C162.83 447.98 166.17 448.15 169.50 448.42 C172.83 448.69 176.17 449.04 179.50 449.24 C182.83 449.44 186.17 449.48 189.50 449.65 C192.83 449.82 196.17 450.09 199.50 450.26 C202.83 450.44 206.17 450.50 209.50 450.68 C212.83 450.85 216.17 451.09 219.50 451.29 C222.83 451.50 226.17 451.70 229.50 451.90 C232.83 452.11 236.17 452.35 239.50 452.52 C242.83 452.69 246.17 452.79 249.50 452.93 C252.83 453.07 256.17 453.31 259.50 453.34 C262.83 453.37 266.17 453.27 269.50 453.13 C272.83 453.00 276.17 452.96 279.50 452.52 C282.83 452.08 286.17 451.29 289.50 450.47 C292.83 449.65 296.17 448.76 299.50 447.60 C302.83 446.44 306.17 444.87 309.50 443.50 C312.83 442.13 316.17 441.11 319.50 439.40 C322.83 437.69 326.17 435.71 329.50 433.25 C332.83 430.79 337.83 426.07 339.50 424.64" fill="none" stroke="#111" stroke-width="1.0" stroke-dasharray="4.5 2.5"/>
<circle cx="69.50" cy="414.60" r="2.35" fill="#1176c9"/>
<circle cx="79.50" cy="419.93" r="2.35" fill="#1176c9"/>
<circle cx="89.50" cy="425.36" r="2.35" fill="#1176c9"/>
<circle cx="99.50" cy="416.64" r="2.35" fill="#1176c9"/>
<circle cx="109.50" cy="391.02" r="2.35" fill="#1176c9"/>
<circle cx="119.50" cy="464.62" r="2.35" fill="#1176c9"/>
<circle cx="129.50" cy="455.60" r="2.35" fill="#1176c9"/>
<circle cx="139.50" cy="452.93" r="2.35" fill="#1176c9"/>
<circle cx="149.50" cy="435.50" r="2.35" fill="#1176c9"/>
<circle cx="159.50" cy="454.57" r="2.35" fill="#1176c9"/>
<circle cx="169.50" cy="461.95" r="2.35" fill="#1176c9"/>
<circle cx="179.50" cy="457.85" r="2.35" fill="#1176c9"/>
<circle cx="189.50" cy="461.95" r="2.35" fill="#1176c9"/>
<circle cx="199.50" cy="450.68" r="2.35" fill="#1176c9"/>
<circle cx="209.50" cy="429.97" r="2.35" fill="#1176c9"/>
<circle cx="219.50" cy="439.40" r="2.35" fill="#1176c9"/>
<circle cx="229.50" cy="424.44" r="2.35" fill="#1176c9"/>
<circle cx="239.50" cy="450.06" r="2.35" fill="#1176c9"/>
<circle cx="249.50" cy="450.88" r="2.35" fill="#1176c9"/>
<circle cx="259.50" cy="461.75" r="2.35" fill="#1176c9"/>
<circle cx="269.50" cy="456.00" r="2.35" fill="#1176c9"/>
<circle cx="279.50" cy="443.91" r="2.35" fill="#1176c9"/>
<circle cx="289.50" cy="461.75" r="2.35" fill="#1176c9"/>
<circle cx="299.50" cy="474.66" r="2.35" fill="#1176c9"/>
<circle cx="309.50" cy="458.67" r="2.35" fill="#1176c9"/>
<circle cx="319.50" cy="416.24" r="2.35" fill="#1176c9"/>
<circle cx="329.50" cy="446.99" r="2.35" fill="#1176c9"/>
<circle cx="339.50" cy="421.15" r="2.35" fill="#1176c9"/>
<circle cx="69.50" cy="418.69" r="2.35" fill="#c20f2f"/>
<circle cx="69.50" cy="421.15" r="2.35" fill="#c20f2f"/>
<circle cx="69.50" cy="423.62" r="2.35" fill="#c20f2f"/>
<circle cx="69.50" cy="452.31" r="2.35" fill="#c20f2f"/>
<circle cx="79.50" cy="407.21" r="2.35" fill="#c20f2f"/>
<circle cx="79.50" cy="418.69" r="2.35" fill="#c20f2f"/>
<circle cx="79.50" cy="421.15" r="2.35" fill="#c20f2f"/>
<circle cx="79.50" cy="423.20" r="2.35" fill="#c20f2f"/>
<circle cx="89.50" cy="409.26" r="2.35" fill="#c20f2f"/>
<circle cx="89.50" cy="415.21" r="2.35" fill="#c20f2f"/>
<circle cx="89.50" cy="442.06" r="2.35" fill="#c20f2f"/>
<circle cx="99.50" cy="408.44" r="2.35" fill="#c20f2f"/>
<circle cx="99.50" cy="423.20" r="2.35" fill="#c20f2f"/>
<circle cx="99.50" cy="429.56" r="2.35" fill="#c20f2f"/>
<circle cx="99.50" cy="442.06" r="2.35" fill="#c20f2f"/>
<circle cx="109.50" cy="383.02" r="2.35" fill="#c20f2f"/>
<circle cx="109.50" cy="385.69" r="2.35" fill="#c20f2f"/>
<circle cx="109.50" cy="395.53" r="2.35" fill="#c20f2f"/>
<circle cx="109.50" cy="457.24" r="2.35" fill="#c20f2f"/>
<circle cx="119.50" cy="441.65" r="2.35" fill="#c20f2f"/>
<circle cx="119.50" cy="457.24" r="2.35" fill="#c20f2f"/>
<circle cx="119.50" cy="466.87" r="2.35" fill="#c20f2f"/>
<circle cx="119.50" cy="468.51" r="2.35" fill="#c20f2f"/>
<circle cx="129.50" cy="442.06" r="2.35" fill="#c20f2f"/>
<circle cx="129.50" cy="447.60" r="2.35" fill="#c20f2f"/>
<circle cx="129.50" cy="462.77" r="2.35" fill="#c20f2f"/>
<circle cx="129.50" cy="466.87" r="2.35" fill="#c20f2f"/>
<circle cx="139.50" cy="446.17" r="2.35" fill="#c20f2f"/>
<circle cx="139.50" cy="454.37" r="2.35" fill="#c20f2f"/>
<circle cx="139.50" cy="457.64" r="2.35" fill="#c20f2f"/>
<circle cx="139.50" cy="464.41" r="2.35" fill="#c20f2f"/>
<circle cx="149.50" cy="424.23" r="2.35" fill="#c20f2f"/>
<circle cx="149.50" cy="426.89" r="2.35" fill="#c20f2f"/>
<circle cx="149.50" cy="431.81" r="2.35" fill="#c20f2f"/>
<circle cx="149.50" cy="452.93" r="2.35" fill="#c20f2f"/>
<circle cx="159.50" cy="443.50" r="2.35" fill="#c20f2f"/>
<circle cx="159.50" cy="447.19" r="2.35" fill="#c20f2f"/>
<circle cx="159.50" cy="461.75" r="2.35" fill="#c20f2f"/>
<circle cx="169.50" cy="457.24" r="2.35" fill="#c20f2f"/>
<circle cx="169.50" cy="461.75" r="2.35" fill="#c20f2f"/>
<circle cx="169.50" cy="465.44" r="2.35" fill="#c20f2f"/>
<circle cx="179.50" cy="452.52" r="2.35" fill="#c20f2f"/>
<circle cx="179.50" cy="457.24" r="2.35" fill="#c20f2f"/>
<circle cx="179.50" cy="465.64" r="2.35" fill="#c20f2f"/>
<circle cx="179.50" cy="468.10" r="2.35" fill="#c20f2f"/>
<circle cx="189.50" cy="451.90" r="2.35" fill="#c20f2f"/>
<circle cx="189.50" cy="453.75" r="2.35" fill="#c20f2f"/>
<circle cx="189.50" cy="460.93" r="2.35" fill="#c20f2f"/>
<circle cx="189.50" cy="466.25" r="2.35" fill="#c20f2f"/>
<circle cx="199.50" cy="426.69" r="2.35" fill="#c20f2f"/>
<circle cx="199.50" cy="445.75" r="2.35" fill="#c20f2f"/>
<circle cx="199.50" cy="457.24" r="2.35" fill="#c20f2f"/>
<circle cx="199.50" cy="462.98" r="2.35" fill="#c20f2f"/>
<circle cx="209.50" cy="411.52" r="2.35" fill="#c20f2f"/>
<circle cx="209.50" cy="445.75" r="2.35" fill="#c20f2f"/>
<circle cx="209.50" cy="452.52" r="2.35" fill="#c20f2f"/>
<circle cx="209.50" cy="462.98" r="2.35" fill="#c20f2f"/>
<circle cx="219.50" cy="416.64" r="2.35" fill="#c20f2f"/>
<circle cx="219.50" cy="445.75" r="2.35" fill="#c20f2f"/>
<circle cx="219.50" cy="449.24" r="2.35" fill="#c20f2f"/>
<circle cx="219.50" cy="455.60" r="2.35" fill="#c20f2f"/>
<circle cx="229.50" cy="418.90" r="2.35" fill="#c20f2f"/>
<circle cx="229.50" cy="423.41" r="2.35" fill="#c20f2f"/>
<circle cx="229.50" cy="437.14" r="2.35" fill="#c20f2f"/>
<circle cx="229.50" cy="452.31" r="2.35" fill="#c20f2f"/>
<circle cx="239.50" cy="446.17" r="2.35" fill="#c20f2f"/>
<circle cx="239.50" cy="449.65" r="2.35" fill="#c20f2f"/>
<circle cx="239.50" cy="452.93" r="2.35" fill="#c20f2f"/>
<circle cx="239.50" cy="457.24" r="2.35" fill="#c20f2f"/>
<circle cx="249.50" cy="446.17" r="2.35" fill="#c20f2f"/>
<circle cx="249.50" cy="450.26" r="2.35" fill="#c20f2f"/>
<circle cx="249.50" cy="453.75" r="2.35" fill="#c20f2f"/>
<circle cx="249.50" cy="457.24" r="2.35" fill="#c20f2f"/>
<circle cx="259.50" cy="449.65" r="2.35" fill="#c20f2f"/>
<circle cx="259.50" cy="456.82" r="2.35" fill="#c20f2f"/>
<circle cx="259.50" cy="459.08" r="2.35" fill="#c20f2f"/>
<circle cx="259.50" cy="466.87" r="2.35" fill="#c20f2f"/>
<circle cx="269.50" cy="448.01" r="2.35" fill="#c20f2f"/>
<circle cx="269.50" cy="450.68" r="2.35" fill="#c20f2f"/>
<circle cx="269.50" cy="452.93" r="2.35" fill="#c20f2f"/>
<circle cx="279.50" cy="435.10" r="2.35" fill="#c20f2f"/>
<circle cx="279.50" cy="440.01" r="2.35" fill="#c20f2f"/>
<circle cx="279.50" cy="442.06" r="2.35" fill="#c20f2f"/>
<circle cx="279.50" cy="457.24" r="2.35" fill="#c20f2f"/>
<circle cx="289.50" cy="454.57" r="2.35" fill="#c20f2f"/>
<circle cx="289.50" cy="457.24" r="2.35" fill="#c20f2f"/>
<circle cx="289.50" cy="464.00" r="2.35" fill="#c20f2f"/>
<circle cx="299.50" cy="462.36" r="2.35" fill="#c20f2f"/>
<circle cx="299.50" cy="466.87" r="2.35" fill="#c20f2f"/>
<circle cx="299.50" cy="472.20" r="2.35" fill="#c20f2f"/>
<circle cx="309.50" cy="442.06" r="2.35" fill="#c20f2f"/>
<circle cx="309.50" cy="451.90" r="2.35" fill="#c20f2f"/>
<circle cx="309.50" cy="454.57" r="2.35" fill="#c20f2f"/>
<circle cx="319.50" cy="417.67" r="2.35" fill="#c20f2f"/>
<circle cx="319.50" cy="432.84" r="2.35" fill="#c20f2f"/>
<circle cx="319.50" cy="442.68" r="2.35" fill="#c20f2f"/>
<circle cx="329.50" cy="431.81" r="2.35" fill="#c20f2f"/>
<circle cx="329.50" cy="440.43" r="2.35" fill="#c20f2f"/>
<circle cx="329.50" cy="443.09" r="2.35" fill="#c20f2f"/>
<circle cx="329.50" cy="457.24" r="2.35" fill="#c20f2f"/>
<circle cx="339.50" cy="405.99" r="2.35" fill="#c20f2f"/>
<circle cx="339.50" cy="412.34" r="2.35" fill="#c20f2f"/>
<circle cx="339.50" cy="414.39" r="2.35" fill="#c20f2f"/>
<circle cx="339.50" cy="423.41" r="2.35" fill="#c20f2f"/>
<circle cx="69.50" cy="414.60" r="2.35" fill="#1176c9"/>
<circle cx="89.50" cy="425.36" r="2.35" fill="#1176c9"/>
<circle cx="99.50" cy="416.64" r="2.35" fill="#1176c9"/>
<circle cx="109.50" cy="391.02" r="2.35" fill="#1176c9"/>
<circle cx="129.50" cy="455.60" r="2.35" fill="#1176c9"/>
<circle cx="149.50" cy="435.50" r="2.35" fill="#1176c9"/>
<circle cx="159.50" cy="454.57" r="2.35" fill="#1176c9"/>
<circle cx="199.50" cy="450.68" r="2.35" fill="#1176c9"/>
<circle cx="209.50" cy="429.97" r="2.35" fill="#1176c9"/>
<circle cx="219.50" cy="439.40" r="2.35" fill="#1176c9"/>
<circle cx="269.50" cy="456.00" r="2.35" fill="#1176c9"/>
<circle cx="299.50" cy="474.66" r="2.35" fill="#1176c9"/>
<circle cx="309.50" cy="458.67" r="2.35" fill="#1176c9"/>
<circle cx="319.50" cy="416.24" r="2.35" fill="#1176c9"/>
<circle cx="329.50" cy="446.99" r="2.35" fill="#1176c9"/>
<circle cx="339.50" cy="421.15" r="2.35" fill="#1176c9"/>
<circle cx="259.50" cy="461.75" r="2.35" fill="#1176c9"/>
<circle cx="289.50" cy="461.75" r="2.35" fill="#1176c9"/>
<circle cx="279.50" cy="443.91" r="2.35" fill="#1176c9"/>
<line x1="59.8" y1="402.5" x2="349.5" y2="402.5" stroke="#0a0a0a" stroke-width="1.6" stroke-dasharray="6.3 4.77"/>
<line x1="59.8" y1="484.5" x2="349.5" y2="484.5" stroke="#0a0a0a" stroke-width="1.6" stroke-dasharray="6.3 5.84"/>
<rect x="169.5" y="524.5" width="70.5" height="21.3" fill="#e6e6e6"/>
<circle cx="173" cy="528.3" r="2.35" fill="#1176c9"/>
<text class="lg" x="176.2" y="530.3">Automated Quanty-cFOS</text>
<rect x="171.2" y="534.45" width="3.6" height="1.5" fill="#111"/>
<text class="lg" x="176.2" y="537.2">Slope</text>
<circle cx="173" cy="542.1" r="2.35" fill="#c20f2f"/>
<text class="lg" x="176.2" y="544.1">Manual</text>
</svg></body></html>
